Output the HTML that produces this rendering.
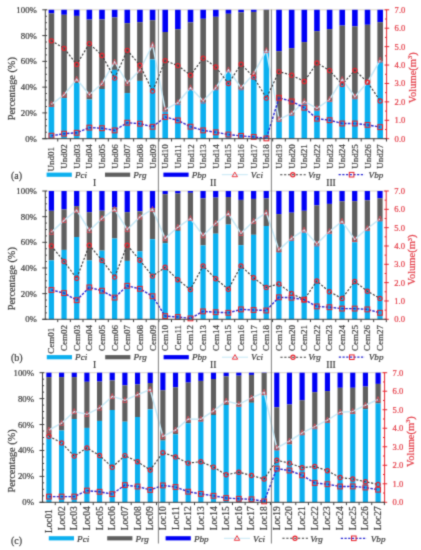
<!DOCTYPE html>
<html><head><meta charset="utf-8"><title>Chart</title>
<style>html,body{margin:0;padding:0;background:#fff;}body{width:421px;height:550px;overflow:hidden;}svg{display:block;}</style>
</head><body>
<svg width="421" height="550" viewBox="0 0 421 550">
<defs>
<filter id="soft" color-interpolation-filters="sRGB" filterUnits="userSpaceOnUse" x="0" y="0" width="421" height="550"><feConvolveMatrix order="3" kernelMatrix="0.03 0.1 0.03 0.1 0.48 0.1 0.03 0.1 0.03" edgeMode="duplicate"/></filter>
</defs>
<g filter="url(#soft)">
<rect width="421" height="550" fill="#fff"/>
<line x1="45.3" y1="9.8" x2="386.6" y2="9.8" stroke="#cfcabb" stroke-width="0.8"/>
<rect x="48.62" y="9.8" width="5.6" height="3.6" fill="#0000f5"/>
<rect x="48.62" y="13.4" width="5.6" height="93.6" fill="#5f5f5f"/>
<rect x="48.62" y="107" width="5.6" height="31.7" fill="#0cb0ef"/>
<rect x="61.27" y="9.8" width="5.6" height="5" fill="#0000f5"/>
<rect x="61.27" y="14.8" width="5.6" height="83.3" fill="#5f5f5f"/>
<rect x="61.27" y="98.1" width="5.6" height="40.6" fill="#0cb0ef"/>
<rect x="73.91" y="9.8" width="5.6" height="6.1" fill="#0000f5"/>
<rect x="73.91" y="15.9" width="5.6" height="67.1" fill="#5f5f5f"/>
<rect x="73.91" y="83" width="5.6" height="55.7" fill="#0cb0ef"/>
<rect x="86.56" y="9.8" width="5.6" height="9.8" fill="#0000f5"/>
<rect x="86.56" y="19.6" width="5.6" height="79.9" fill="#5f5f5f"/>
<rect x="86.56" y="99.5" width="5.6" height="39.2" fill="#0cb0ef"/>
<rect x="99.2" y="9.8" width="5.6" height="9.7" fill="#0000f5"/>
<rect x="99.2" y="19.5" width="5.6" height="69.5" fill="#5f5f5f"/>
<rect x="99.2" y="89" width="5.6" height="49.7" fill="#0cb0ef"/>
<rect x="111.84" y="9.8" width="5.6" height="7.6" fill="#0000f5"/>
<rect x="111.84" y="17.4" width="5.6" height="52.5" fill="#5f5f5f"/>
<rect x="111.84" y="69.9" width="5.6" height="68.8" fill="#0cb0ef"/>
<rect x="124.49" y="9.8" width="5.6" height="13.4" fill="#0000f5"/>
<rect x="124.49" y="23.2" width="5.6" height="69.9" fill="#5f5f5f"/>
<rect x="124.49" y="93.1" width="5.6" height="45.6" fill="#0cb0ef"/>
<rect x="137.13" y="9.8" width="5.6" height="12.4" fill="#0000f5"/>
<rect x="137.13" y="22.2" width="5.6" height="58.7" fill="#5f5f5f"/>
<rect x="137.13" y="80.9" width="5.6" height="57.8" fill="#0cb0ef"/>
<rect x="149.78" y="9.8" width="5.6" height="10.4" fill="#0000f5"/>
<rect x="149.78" y="20.2" width="5.6" height="39.2" fill="#5f5f5f"/>
<rect x="149.78" y="59.4" width="5.6" height="79.3" fill="#0cb0ef"/>
<rect x="162.42" y="9.8" width="5.6" height="22.2" fill="#0000f5"/>
<rect x="162.42" y="32" width="5.6" height="79.1" fill="#5f5f5f"/>
<rect x="162.42" y="111.1" width="5.6" height="27.6" fill="#0cb0ef"/>
<rect x="175.07" y="9.8" width="5.6" height="19.4" fill="#0000f5"/>
<rect x="175.07" y="29.2" width="5.6" height="74.2" fill="#5f5f5f"/>
<rect x="175.07" y="103.4" width="5.6" height="35.3" fill="#0cb0ef"/>
<rect x="187.71" y="9.8" width="5.6" height="12.6" fill="#0000f5"/>
<rect x="187.71" y="22.4" width="5.6" height="66.6" fill="#5f5f5f"/>
<rect x="187.71" y="89" width="5.6" height="49.7" fill="#0cb0ef"/>
<rect x="200.36" y="9.8" width="5.6" height="9" fill="#0000f5"/>
<rect x="200.36" y="18.8" width="5.6" height="83.2" fill="#5f5f5f"/>
<rect x="200.36" y="102" width="5.6" height="36.7" fill="#0cb0ef"/>
<rect x="213" y="9.8" width="5.6" height="7" fill="#0000f5"/>
<rect x="213" y="16.8" width="5.6" height="72.2" fill="#5f5f5f"/>
<rect x="213" y="89" width="5.6" height="49.7" fill="#0cb0ef"/>
<rect x="225.64" y="9.8" width="5.6" height="4" fill="#0000f5"/>
<rect x="225.64" y="13.8" width="5.6" height="57.3" fill="#5f5f5f"/>
<rect x="225.64" y="71.1" width="5.6" height="67.6" fill="#0cb0ef"/>
<rect x="238.29" y="9.8" width="5.6" height="2.6" fill="#0000f5"/>
<rect x="238.29" y="12.4" width="5.6" height="76.6" fill="#5f5f5f"/>
<rect x="238.29" y="89" width="5.6" height="49.7" fill="#0cb0ef"/>
<rect x="250.93" y="9.8" width="5.6" height="2.1" fill="#0000f5"/>
<rect x="250.93" y="11.9" width="5.6" height="63.4" fill="#5f5f5f"/>
<rect x="250.93" y="75.3" width="5.6" height="63.4" fill="#0cb0ef"/>
<rect x="263.58" y="9.8" width="5.6" height="0.2" fill="#0000f5"/>
<rect x="263.58" y="10" width="5.6" height="41.3" fill="#5f5f5f"/>
<rect x="263.58" y="51.3" width="5.6" height="87.4" fill="#0cb0ef"/>
<rect x="276.22" y="9.8" width="5.6" height="41.4" fill="#0000f5"/>
<rect x="276.22" y="51.2" width="5.6" height="69.5" fill="#5f5f5f"/>
<rect x="276.22" y="120.7" width="5.6" height="18" fill="#0cb0ef"/>
<rect x="288.87" y="9.8" width="5.6" height="38.4" fill="#0000f5"/>
<rect x="288.87" y="48.2" width="5.6" height="66.5" fill="#5f5f5f"/>
<rect x="288.87" y="114.7" width="5.6" height="24" fill="#0cb0ef"/>
<rect x="301.51" y="9.8" width="5.6" height="32.3" fill="#0000f5"/>
<rect x="301.51" y="42.1" width="5.6" height="61.5" fill="#5f5f5f"/>
<rect x="301.51" y="103.6" width="5.6" height="35.1" fill="#0cb0ef"/>
<rect x="314.16" y="9.8" width="5.6" height="21.4" fill="#0000f5"/>
<rect x="314.16" y="31.2" width="5.6" height="79" fill="#5f5f5f"/>
<rect x="314.16" y="110.2" width="5.6" height="28.5" fill="#0cb0ef"/>
<rect x="326.8" y="9.8" width="5.6" height="19.3" fill="#0000f5"/>
<rect x="326.8" y="29.1" width="5.6" height="72.5" fill="#5f5f5f"/>
<rect x="326.8" y="101.6" width="5.6" height="37.1" fill="#0cb0ef"/>
<rect x="339.44" y="9.8" width="5.6" height="15.8" fill="#0000f5"/>
<rect x="339.44" y="25.6" width="5.6" height="55.2" fill="#5f5f5f"/>
<rect x="339.44" y="80.8" width="5.6" height="57.9" fill="#0cb0ef"/>
<rect x="352.09" y="9.8" width="5.6" height="16.6" fill="#0000f5"/>
<rect x="352.09" y="26.4" width="5.6" height="72.4" fill="#5f5f5f"/>
<rect x="352.09" y="98.8" width="5.6" height="39.9" fill="#0cb0ef"/>
<rect x="364.73" y="9.8" width="5.6" height="15" fill="#0000f5"/>
<rect x="364.73" y="24.8" width="5.6" height="58.7" fill="#5f5f5f"/>
<rect x="364.73" y="83.5" width="5.6" height="55.2" fill="#0cb0ef"/>
<rect x="377.38" y="9.8" width="5.6" height="12.4" fill="#0000f5"/>
<rect x="377.38" y="22.2" width="5.6" height="39.3" fill="#5f5f5f"/>
<rect x="377.38" y="61.5" width="5.6" height="77.2" fill="#0cb0ef"/>
<polyline points="51.42,104.3 64.07,94.8 76.71,79.2 89.36,94.7 102,83.5 114.64,61.9 127.29,83.1 139.93,70 152.58,44.7 165.22,109.7 177.87,102.6 190.51,87.7 203.16,101 215.8,87.7 228.44,69.8 241.09,87.7 253.73,73.9 266.38,50.5 279.02,119.4 291.67,113.3 304.31,101.4 316.96,108.3 329.6,99.5 342.24,79.4 354.89,96.7 367.53,82.2 380.18,60.1" fill="none" stroke="#c6e8f6" stroke-width="1.5"/>
<polyline points="51.42,40.8 64.07,48.3 76.71,64.4 89.36,43.6 102,55.5 114.64,78.1 127.29,50.3 139.93,65.2 152.58,91.1 165.22,60.6 177.87,65.6 190.51,75.2 203.16,58.1 215.8,67 228.44,83.5 241.09,64.2 253.73,77.2 266.38,98.1 279.02,71.6 291.67,75.2 304.31,81.5 316.96,62.9 329.6,70.6 342.24,84.4 354.89,70.3 367.53,82.2 380.18,100.9" fill="none" stroke="#3a3a3a" stroke-width="1.15" stroke-dasharray="2.2,1.6"/>
<polyline points="51.42,135.7 64.07,133.7 76.71,132.8 89.36,127.6 102,128.2 114.64,130.4 127.29,122.7 139.93,123.7 152.58,126.8 165.22,117 177.87,120.4 190.51,126.7 203.16,130.4 215.8,132.3 228.44,134.5 241.09,135.9 253.73,136.9 266.38,138.4 279.02,97.8 291.67,101.4 304.31,107.7 316.96,118.7 329.6,120.2 342.24,123.5 354.89,123.5 367.53,124.9 380.18,127.1" fill="none" stroke="#2626d2" stroke-width="1.4" stroke-dasharray="2.6,1.3"/>
<path d="M51.42,101.4 L53.57,106.4 L49.27,106.4 Z" fill="none" stroke="#e5505e" stroke-width="0.8"/>
<rect x="49.02" y="133.3" width="4.8" height="4.8" fill="none" stroke="#e8232d" stroke-width="1.05"/>
<path d="M64.07,91.9 L66.22,96.9 L61.92,96.9 Z" fill="none" stroke="#e5505e" stroke-width="0.8"/>
<rect x="61.67" y="131.3" width="4.8" height="4.8" fill="none" stroke="#e8232d" stroke-width="1.05"/>
<path d="M76.71,76.3 L78.86,81.3 L74.56,81.3 Z" fill="none" stroke="#e5505e" stroke-width="0.8"/>
<rect x="74.31" y="130.4" width="4.8" height="4.8" fill="none" stroke="#e8232d" stroke-width="1.05"/>
<path d="M89.36,91.8 L91.51,96.8 L87.21,96.8 Z" fill="none" stroke="#e5505e" stroke-width="0.8"/>
<rect x="86.96" y="125.2" width="4.8" height="4.8" fill="none" stroke="#e8232d" stroke-width="1.05"/>
<path d="M102,80.6 L104.15,85.6 L99.85,85.6 Z" fill="none" stroke="#e5505e" stroke-width="0.8"/>
<rect x="99.6" y="125.8" width="4.8" height="4.8" fill="none" stroke="#e8232d" stroke-width="1.05"/>
<path d="M114.64,59 L116.79,64 L112.49,64 Z" fill="none" stroke="#e5505e" stroke-width="0.8"/>
<rect x="112.24" y="128" width="4.8" height="4.8" fill="none" stroke="#e8232d" stroke-width="1.05"/>
<path d="M127.29,80.2 L129.44,85.2 L125.14,85.2 Z" fill="none" stroke="#e5505e" stroke-width="0.8"/>
<rect x="124.89" y="120.3" width="4.8" height="4.8" fill="none" stroke="#e8232d" stroke-width="1.05"/>
<path d="M139.93,67.1 L142.08,72.1 L137.78,72.1 Z" fill="none" stroke="#e5505e" stroke-width="0.8"/>
<rect x="137.53" y="121.3" width="4.8" height="4.8" fill="none" stroke="#e8232d" stroke-width="1.05"/>
<path d="M152.58,41.8 L154.73,46.8 L150.43,46.8 Z" fill="none" stroke="#e5505e" stroke-width="0.8"/>
<rect x="150.18" y="124.4" width="4.8" height="4.8" fill="none" stroke="#e8232d" stroke-width="1.05"/>
<path d="M165.22,106.8 L167.37,111.8 L163.07,111.8 Z" fill="none" stroke="#e5505e" stroke-width="0.8"/>
<rect x="162.82" y="114.6" width="4.8" height="4.8" fill="none" stroke="#e8232d" stroke-width="1.05"/>
<path d="M177.87,99.7 L180.02,104.7 L175.72,104.7 Z" fill="none" stroke="#e5505e" stroke-width="0.8"/>
<rect x="175.47" y="118" width="4.8" height="4.8" fill="none" stroke="#e8232d" stroke-width="1.05"/>
<path d="M190.51,84.8 L192.66,89.8 L188.36,89.8 Z" fill="none" stroke="#e5505e" stroke-width="0.8"/>
<rect x="188.11" y="124.3" width="4.8" height="4.8" fill="none" stroke="#e8232d" stroke-width="1.05"/>
<path d="M203.16,98.1 L205.31,103.1 L201.01,103.1 Z" fill="none" stroke="#e5505e" stroke-width="0.8"/>
<rect x="200.76" y="128" width="4.8" height="4.8" fill="none" stroke="#e8232d" stroke-width="1.05"/>
<path d="M215.8,84.8 L217.95,89.8 L213.65,89.8 Z" fill="none" stroke="#e5505e" stroke-width="0.8"/>
<rect x="213.4" y="129.9" width="4.8" height="4.8" fill="none" stroke="#e8232d" stroke-width="1.05"/>
<path d="M228.44,66.9 L230.59,71.9 L226.29,71.9 Z" fill="none" stroke="#e5505e" stroke-width="0.8"/>
<rect x="226.04" y="132.1" width="4.8" height="4.8" fill="none" stroke="#e8232d" stroke-width="1.05"/>
<path d="M241.09,84.8 L243.24,89.8 L238.94,89.8 Z" fill="none" stroke="#e5505e" stroke-width="0.8"/>
<rect x="238.69" y="133.5" width="4.8" height="4.8" fill="none" stroke="#e8232d" stroke-width="1.05"/>
<path d="M253.73,71 L255.88,76 L251.58,76 Z" fill="none" stroke="#e5505e" stroke-width="0.8"/>
<rect x="251.33" y="134.5" width="4.8" height="4.8" fill="none" stroke="#e8232d" stroke-width="1.05"/>
<path d="M266.38,47.6 L268.53,52.6 L264.23,52.6 Z" fill="none" stroke="#e5505e" stroke-width="0.8"/>
<rect x="263.98" y="136" width="4.8" height="4.8" fill="none" stroke="#e8232d" stroke-width="1.05"/>
<path d="M279.02,116.5 L281.17,121.5 L276.87,121.5 Z" fill="none" stroke="#e5505e" stroke-width="0.8"/>
<rect x="276.62" y="95.4" width="4.8" height="4.8" fill="none" stroke="#e8232d" stroke-width="1.05"/>
<path d="M291.67,110.4 L293.82,115.4 L289.52,115.4 Z" fill="none" stroke="#e5505e" stroke-width="0.8"/>
<rect x="289.27" y="99" width="4.8" height="4.8" fill="none" stroke="#e8232d" stroke-width="1.05"/>
<path d="M304.31,98.5 L306.46,103.5 L302.16,103.5 Z" fill="none" stroke="#e5505e" stroke-width="0.8"/>
<rect x="301.91" y="105.3" width="4.8" height="4.8" fill="none" stroke="#e8232d" stroke-width="1.05"/>
<path d="M316.96,105.4 L319.11,110.4 L314.81,110.4 Z" fill="none" stroke="#e5505e" stroke-width="0.8"/>
<rect x="314.56" y="116.3" width="4.8" height="4.8" fill="none" stroke="#e8232d" stroke-width="1.05"/>
<path d="M329.6,96.6 L331.75,101.6 L327.45,101.6 Z" fill="none" stroke="#e5505e" stroke-width="0.8"/>
<rect x="327.2" y="117.8" width="4.8" height="4.8" fill="none" stroke="#e8232d" stroke-width="1.05"/>
<path d="M342.24,76.5 L344.39,81.5 L340.09,81.5 Z" fill="none" stroke="#e5505e" stroke-width="0.8"/>
<rect x="339.84" y="121.1" width="4.8" height="4.8" fill="none" stroke="#e8232d" stroke-width="1.05"/>
<path d="M354.89,93.8 L357.04,98.8 L352.74,98.8 Z" fill="none" stroke="#e5505e" stroke-width="0.8"/>
<rect x="352.49" y="121.1" width="4.8" height="4.8" fill="none" stroke="#e8232d" stroke-width="1.05"/>
<path d="M367.53,79.3 L369.68,84.3 L365.38,84.3 Z" fill="none" stroke="#e5505e" stroke-width="0.8"/>
<rect x="365.13" y="122.5" width="4.8" height="4.8" fill="none" stroke="#e8232d" stroke-width="1.05"/>
<path d="M380.18,57.2 L382.33,62.2 L378.03,62.2 Z" fill="none" stroke="#e5505e" stroke-width="0.8"/>
<rect x="377.78" y="124.7" width="4.8" height="4.8" fill="none" stroke="#e8232d" stroke-width="1.05"/>
<circle cx="51.42" cy="40.8" r="2.1" fill="none" stroke="#e8232d" stroke-width="1.15"/>
<circle cx="64.07" cy="48.3" r="2.1" fill="none" stroke="#e8232d" stroke-width="1.15"/>
<circle cx="76.71" cy="64.4" r="2.1" fill="none" stroke="#e8232d" stroke-width="1.15"/>
<circle cx="89.36" cy="43.6" r="2.1" fill="none" stroke="#e8232d" stroke-width="1.15"/>
<circle cx="102" cy="55.5" r="2.1" fill="none" stroke="#e8232d" stroke-width="1.15"/>
<circle cx="114.64" cy="78.1" r="2.1" fill="none" stroke="#e8232d" stroke-width="1.15"/>
<circle cx="127.29" cy="50.3" r="2.1" fill="none" stroke="#e8232d" stroke-width="1.15"/>
<circle cx="139.93" cy="65.2" r="2.1" fill="none" stroke="#e8232d" stroke-width="1.15"/>
<circle cx="152.58" cy="91.1" r="2.1" fill="none" stroke="#e8232d" stroke-width="1.15"/>
<circle cx="165.22" cy="60.6" r="2.1" fill="none" stroke="#e8232d" stroke-width="1.15"/>
<circle cx="177.87" cy="65.6" r="2.1" fill="none" stroke="#e8232d" stroke-width="1.15"/>
<circle cx="190.51" cy="75.2" r="2.1" fill="none" stroke="#e8232d" stroke-width="1.15"/>
<circle cx="203.16" cy="58.1" r="2.1" fill="none" stroke="#e8232d" stroke-width="1.15"/>
<circle cx="215.8" cy="67" r="2.1" fill="none" stroke="#e8232d" stroke-width="1.15"/>
<circle cx="228.44" cy="83.5" r="2.1" fill="none" stroke="#e8232d" stroke-width="1.15"/>
<circle cx="241.09" cy="64.2" r="2.1" fill="none" stroke="#e8232d" stroke-width="1.15"/>
<circle cx="253.73" cy="77.2" r="2.1" fill="none" stroke="#e8232d" stroke-width="1.15"/>
<circle cx="266.38" cy="98.1" r="2.1" fill="none" stroke="#e8232d" stroke-width="1.15"/>
<circle cx="279.02" cy="71.6" r="2.1" fill="none" stroke="#e8232d" stroke-width="1.15"/>
<circle cx="291.67" cy="75.2" r="2.1" fill="none" stroke="#e8232d" stroke-width="1.15"/>
<circle cx="304.31" cy="81.5" r="2.1" fill="none" stroke="#e8232d" stroke-width="1.15"/>
<circle cx="316.96" cy="62.9" r="2.1" fill="none" stroke="#e8232d" stroke-width="1.15"/>
<circle cx="329.6" cy="70.6" r="2.1" fill="none" stroke="#e8232d" stroke-width="1.15"/>
<circle cx="342.24" cy="84.4" r="2.1" fill="none" stroke="#e8232d" stroke-width="1.15"/>
<circle cx="354.89" cy="70.3" r="2.1" fill="none" stroke="#e8232d" stroke-width="1.15"/>
<circle cx="367.53" cy="82.2" r="2.1" fill="none" stroke="#e8232d" stroke-width="1.15"/>
<circle cx="380.18" cy="100.9" r="2.1" fill="none" stroke="#e8232d" stroke-width="1.15"/>
<line x1="45.3" y1="9.8" x2="45.3" y2="138.7" stroke="#3c3c3c" stroke-width="1"/>
<line x1="42.3" y1="138.7" x2="47.1" y2="138.7" stroke="#3c3c3c" stroke-width="1"/>
<text x="36.9" y="141.7" text-anchor="end" font-size="8.8" fill="#3a3a3a" stroke="#3a3a3a" stroke-width="0.2" style="font-family:'Liberation Serif',serif">0%</text>
<line x1="45.3" y1="132.25" x2="46.9" y2="132.25" stroke="#3c3c3c" stroke-width="1"/>
<line x1="45.3" y1="125.81" x2="46.9" y2="125.81" stroke="#3c3c3c" stroke-width="1"/>
<line x1="45.3" y1="119.36" x2="46.9" y2="119.36" stroke="#3c3c3c" stroke-width="1"/>
<line x1="42.3" y1="112.92" x2="47.1" y2="112.92" stroke="#3c3c3c" stroke-width="1"/>
<text x="36.9" y="115.92" text-anchor="end" font-size="8.8" fill="#3a3a3a" stroke="#3a3a3a" stroke-width="0.2" style="font-family:'Liberation Serif',serif">20%</text>
<line x1="45.3" y1="106.47" x2="46.9" y2="106.47" stroke="#3c3c3c" stroke-width="1"/>
<line x1="45.3" y1="100.03" x2="46.9" y2="100.03" stroke="#3c3c3c" stroke-width="1"/>
<line x1="45.3" y1="93.58" x2="46.9" y2="93.58" stroke="#3c3c3c" stroke-width="1"/>
<line x1="42.3" y1="87.14" x2="47.1" y2="87.14" stroke="#3c3c3c" stroke-width="1"/>
<text x="36.9" y="90.14" text-anchor="end" font-size="8.8" fill="#3a3a3a" stroke="#3a3a3a" stroke-width="0.2" style="font-family:'Liberation Serif',serif">40%</text>
<line x1="45.3" y1="80.69" x2="46.9" y2="80.69" stroke="#3c3c3c" stroke-width="1"/>
<line x1="45.3" y1="74.25" x2="46.9" y2="74.25" stroke="#3c3c3c" stroke-width="1"/>
<line x1="45.3" y1="67.81" x2="46.9" y2="67.81" stroke="#3c3c3c" stroke-width="1"/>
<line x1="42.3" y1="61.36" x2="47.1" y2="61.36" stroke="#3c3c3c" stroke-width="1"/>
<text x="36.9" y="64.36" text-anchor="end" font-size="8.8" fill="#3a3a3a" stroke="#3a3a3a" stroke-width="0.2" style="font-family:'Liberation Serif',serif">60%</text>
<line x1="45.3" y1="54.91" x2="46.9" y2="54.91" stroke="#3c3c3c" stroke-width="1"/>
<line x1="45.3" y1="48.47" x2="46.9" y2="48.47" stroke="#3c3c3c" stroke-width="1"/>
<line x1="45.3" y1="42.03" x2="46.9" y2="42.03" stroke="#3c3c3c" stroke-width="1"/>
<line x1="42.3" y1="35.58" x2="47.1" y2="35.58" stroke="#3c3c3c" stroke-width="1"/>
<text x="36.9" y="38.58" text-anchor="end" font-size="8.8" fill="#3a3a3a" stroke="#3a3a3a" stroke-width="0.2" style="font-family:'Liberation Serif',serif">80%</text>
<line x1="45.3" y1="29.14" x2="46.9" y2="29.14" stroke="#3c3c3c" stroke-width="1"/>
<line x1="45.3" y1="22.69" x2="46.9" y2="22.69" stroke="#3c3c3c" stroke-width="1"/>
<line x1="45.3" y1="16.25" x2="46.9" y2="16.25" stroke="#3c3c3c" stroke-width="1"/>
<line x1="42.3" y1="9.8" x2="47.1" y2="9.8" stroke="#3c3c3c" stroke-width="1"/>
<text x="36.9" y="12.8" text-anchor="end" font-size="8.8" fill="#3a3a3a" stroke="#3a3a3a" stroke-width="0.2" style="font-family:'Liberation Serif',serif">100%</text>
<line x1="386.6" y1="9.8" x2="386.6" y2="138.7" stroke="#e8232d" stroke-width="1"/>
<line x1="384.6" y1="138.7" x2="389.2" y2="138.7" stroke="#e8232d" stroke-width="1"/>
<text x="394.6" y="141.7" font-size="8.6" fill="#e33a44" stroke="#e33a44" stroke-width="0.2" style="font-family:'Liberation Serif',serif">0.0</text>
<line x1="385" y1="129.49" x2="386.6" y2="129.49" stroke="#e8232d" stroke-width="1"/>
<line x1="384.6" y1="120.29" x2="389.2" y2="120.29" stroke="#e8232d" stroke-width="1"/>
<text x="394.6" y="123.29" font-size="8.6" fill="#e33a44" stroke="#e33a44" stroke-width="0.2" style="font-family:'Liberation Serif',serif">1.0</text>
<line x1="385" y1="111.08" x2="386.6" y2="111.08" stroke="#e8232d" stroke-width="1"/>
<line x1="384.6" y1="101.87" x2="389.2" y2="101.87" stroke="#e8232d" stroke-width="1"/>
<text x="394.6" y="104.87" font-size="8.6" fill="#e33a44" stroke="#e33a44" stroke-width="0.2" style="font-family:'Liberation Serif',serif">2.0</text>
<line x1="385" y1="92.66" x2="386.6" y2="92.66" stroke="#e8232d" stroke-width="1"/>
<line x1="384.6" y1="83.46" x2="389.2" y2="83.46" stroke="#e8232d" stroke-width="1"/>
<text x="394.6" y="86.46" font-size="8.6" fill="#e33a44" stroke="#e33a44" stroke-width="0.2" style="font-family:'Liberation Serif',serif">3.0</text>
<line x1="385" y1="74.25" x2="386.6" y2="74.25" stroke="#e8232d" stroke-width="1"/>
<line x1="384.6" y1="65.04" x2="389.2" y2="65.04" stroke="#e8232d" stroke-width="1"/>
<text x="394.6" y="68.04" font-size="8.6" fill="#e33a44" stroke="#e33a44" stroke-width="0.2" style="font-family:'Liberation Serif',serif">4.0</text>
<line x1="385" y1="55.84" x2="386.6" y2="55.84" stroke="#e8232d" stroke-width="1"/>
<line x1="384.6" y1="46.63" x2="389.2" y2="46.63" stroke="#e8232d" stroke-width="1"/>
<text x="394.6" y="49.63" font-size="8.6" fill="#e33a44" stroke="#e33a44" stroke-width="0.2" style="font-family:'Liberation Serif',serif">5.0</text>
<line x1="385" y1="37.42" x2="386.6" y2="37.42" stroke="#e8232d" stroke-width="1"/>
<line x1="384.6" y1="28.21" x2="389.2" y2="28.21" stroke="#e8232d" stroke-width="1"/>
<text x="394.6" y="31.21" font-size="8.6" fill="#e33a44" stroke="#e33a44" stroke-width="0.2" style="font-family:'Liberation Serif',serif">6.0</text>
<line x1="385" y1="19.01" x2="386.6" y2="19.01" stroke="#e8232d" stroke-width="1"/>
<line x1="384.6" y1="9.8" x2="389.2" y2="9.8" stroke="#e8232d" stroke-width="1"/>
<text x="394.6" y="12.8" font-size="8.6" fill="#e33a44" stroke="#e33a44" stroke-width="0.2" style="font-family:'Liberation Serif',serif">7.0</text>
<line x1="42.3" y1="138.7" x2="386.6" y2="138.7" stroke="#3c3c3c" stroke-width="1"/>
<line x1="57.74" y1="138.7" x2="57.74" y2="141.5" stroke="#3c3c3c" stroke-width="1"/>
<line x1="70.39" y1="138.7" x2="70.39" y2="141.5" stroke="#3c3c3c" stroke-width="1"/>
<line x1="83.03" y1="138.7" x2="83.03" y2="141.5" stroke="#3c3c3c" stroke-width="1"/>
<line x1="95.68" y1="138.7" x2="95.68" y2="141.5" stroke="#3c3c3c" stroke-width="1"/>
<line x1="108.32" y1="138.7" x2="108.32" y2="141.5" stroke="#3c3c3c" stroke-width="1"/>
<line x1="120.97" y1="138.7" x2="120.97" y2="141.5" stroke="#3c3c3c" stroke-width="1"/>
<line x1="133.61" y1="138.7" x2="133.61" y2="141.5" stroke="#3c3c3c" stroke-width="1"/>
<line x1="146.26" y1="138.7" x2="146.26" y2="141.5" stroke="#3c3c3c" stroke-width="1"/>
<line x1="158.9" y1="138.7" x2="158.9" y2="141.5" stroke="#3c3c3c" stroke-width="1"/>
<line x1="171.54" y1="138.7" x2="171.54" y2="141.5" stroke="#3c3c3c" stroke-width="1"/>
<line x1="184.19" y1="138.7" x2="184.19" y2="141.5" stroke="#3c3c3c" stroke-width="1"/>
<line x1="196.83" y1="138.7" x2="196.83" y2="141.5" stroke="#3c3c3c" stroke-width="1"/>
<line x1="209.48" y1="138.7" x2="209.48" y2="141.5" stroke="#3c3c3c" stroke-width="1"/>
<line x1="222.12" y1="138.7" x2="222.12" y2="141.5" stroke="#3c3c3c" stroke-width="1"/>
<line x1="234.77" y1="138.7" x2="234.77" y2="141.5" stroke="#3c3c3c" stroke-width="1"/>
<line x1="247.41" y1="138.7" x2="247.41" y2="141.5" stroke="#3c3c3c" stroke-width="1"/>
<line x1="260.06" y1="138.7" x2="260.06" y2="141.5" stroke="#3c3c3c" stroke-width="1"/>
<line x1="272.7" y1="138.7" x2="272.7" y2="141.5" stroke="#3c3c3c" stroke-width="1"/>
<line x1="285.34" y1="138.7" x2="285.34" y2="141.5" stroke="#3c3c3c" stroke-width="1"/>
<line x1="297.99" y1="138.7" x2="297.99" y2="141.5" stroke="#3c3c3c" stroke-width="1"/>
<line x1="310.63" y1="138.7" x2="310.63" y2="141.5" stroke="#3c3c3c" stroke-width="1"/>
<line x1="323.28" y1="138.7" x2="323.28" y2="141.5" stroke="#3c3c3c" stroke-width="1"/>
<line x1="335.92" y1="138.7" x2="335.92" y2="141.5" stroke="#3c3c3c" stroke-width="1"/>
<line x1="348.57" y1="138.7" x2="348.57" y2="141.5" stroke="#3c3c3c" stroke-width="1"/>
<line x1="361.21" y1="138.7" x2="361.21" y2="141.5" stroke="#3c3c3c" stroke-width="1"/>
<line x1="373.86" y1="138.7" x2="373.86" y2="141.5" stroke="#3c3c3c" stroke-width="1"/>
<line x1="386.5" y1="138.7" x2="386.5" y2="141.5" stroke="#3c3c3c" stroke-width="1"/>
<text transform="translate(54.42,147.1) rotate(-90)" text-anchor="end" font-size="9.0" fill="#3a3a3a" stroke="#3a3a3a" stroke-width="0.2" style="font-family:'Liberation Serif',serif">Und01</text>
<text transform="translate(67.07,144.3) rotate(-90)" text-anchor="end" font-size="9.0" fill="#3a3a3a" stroke="#3a3a3a" stroke-width="0.2" style="font-family:'Liberation Serif',serif">Und02</text>
<text transform="translate(79.71,144.3) rotate(-90)" text-anchor="end" font-size="9.0" fill="#3a3a3a" stroke="#3a3a3a" stroke-width="0.2" style="font-family:'Liberation Serif',serif">Und03</text>
<text transform="translate(92.36,144.3) rotate(-90)" text-anchor="end" font-size="9.0" fill="#3a3a3a" stroke="#3a3a3a" stroke-width="0.2" style="font-family:'Liberation Serif',serif">Und04</text>
<text transform="translate(105,144.3) rotate(-90)" text-anchor="end" font-size="9.0" fill="#3a3a3a" stroke="#3a3a3a" stroke-width="0.2" style="font-family:'Liberation Serif',serif">Und05</text>
<text transform="translate(117.64,144.3) rotate(-90)" text-anchor="end" font-size="9.0" fill="#3a3a3a" stroke="#3a3a3a" stroke-width="0.2" style="font-family:'Liberation Serif',serif">Und06</text>
<text transform="translate(130.29,144.3) rotate(-90)" text-anchor="end" font-size="9.0" fill="#3a3a3a" stroke="#3a3a3a" stroke-width="0.2" style="font-family:'Liberation Serif',serif">Und07</text>
<text transform="translate(142.93,144.3) rotate(-90)" text-anchor="end" font-size="9.0" fill="#3a3a3a" stroke="#3a3a3a" stroke-width="0.2" style="font-family:'Liberation Serif',serif">Und08</text>
<text transform="translate(155.58,144.3) rotate(-90)" text-anchor="end" font-size="9.0" fill="#3a3a3a" stroke="#3a3a3a" stroke-width="0.2" style="font-family:'Liberation Serif',serif">Und09</text>
<text transform="translate(168.22,144.3) rotate(-90)" text-anchor="end" font-size="9.0" fill="#3a3a3a" stroke="#3a3a3a" stroke-width="0.2" style="font-family:'Liberation Serif',serif">Und10</text>
<text transform="translate(180.87,144.3) rotate(-90)" text-anchor="end" font-size="9.0" fill="#3a3a3a" stroke="#3a3a3a" stroke-width="0.2" style="font-family:'Liberation Serif',serif">Und11</text>
<text transform="translate(193.51,144.3) rotate(-90)" text-anchor="end" font-size="9.0" fill="#3a3a3a" stroke="#3a3a3a" stroke-width="0.2" style="font-family:'Liberation Serif',serif">Und12</text>
<text transform="translate(206.16,144.3) rotate(-90)" text-anchor="end" font-size="9.0" fill="#3a3a3a" stroke="#3a3a3a" stroke-width="0.2" style="font-family:'Liberation Serif',serif">Und13</text>
<text transform="translate(218.8,144.3) rotate(-90)" text-anchor="end" font-size="9.0" fill="#3a3a3a" stroke="#3a3a3a" stroke-width="0.2" style="font-family:'Liberation Serif',serif">Und14</text>
<text transform="translate(231.44,144.3) rotate(-90)" text-anchor="end" font-size="9.0" fill="#3a3a3a" stroke="#3a3a3a" stroke-width="0.2" style="font-family:'Liberation Serif',serif">Und15</text>
<text transform="translate(244.09,144.3) rotate(-90)" text-anchor="end" font-size="9.0" fill="#3a3a3a" stroke="#3a3a3a" stroke-width="0.2" style="font-family:'Liberation Serif',serif">Und16</text>
<text transform="translate(256.73,144.3) rotate(-90)" text-anchor="end" font-size="9.0" fill="#3a3a3a" stroke="#3a3a3a" stroke-width="0.2" style="font-family:'Liberation Serif',serif">Und17</text>
<text transform="translate(269.38,144.3) rotate(-90)" text-anchor="end" font-size="9.0" fill="#3a3a3a" stroke="#3a3a3a" stroke-width="0.2" style="font-family:'Liberation Serif',serif">Und18</text>
<text transform="translate(282.02,144.3) rotate(-90)" text-anchor="end" font-size="9.0" fill="#3a3a3a" stroke="#3a3a3a" stroke-width="0.2" style="font-family:'Liberation Serif',serif">Und19</text>
<text transform="translate(294.67,144.3) rotate(-90)" text-anchor="end" font-size="9.0" fill="#3a3a3a" stroke="#3a3a3a" stroke-width="0.2" style="font-family:'Liberation Serif',serif">Und20</text>
<text transform="translate(307.31,144.3) rotate(-90)" text-anchor="end" font-size="9.0" fill="#3a3a3a" stroke="#3a3a3a" stroke-width="0.2" style="font-family:'Liberation Serif',serif">Und21</text>
<text transform="translate(319.96,144.3) rotate(-90)" text-anchor="end" font-size="9.0" fill="#3a3a3a" stroke="#3a3a3a" stroke-width="0.2" style="font-family:'Liberation Serif',serif">Und22</text>
<text transform="translate(332.6,144.3) rotate(-90)" text-anchor="end" font-size="9.0" fill="#3a3a3a" stroke="#3a3a3a" stroke-width="0.2" style="font-family:'Liberation Serif',serif">Und23</text>
<text transform="translate(345.24,144.3) rotate(-90)" text-anchor="end" font-size="9.0" fill="#3a3a3a" stroke="#3a3a3a" stroke-width="0.2" style="font-family:'Liberation Serif',serif">Und24</text>
<text transform="translate(357.89,144.3) rotate(-90)" text-anchor="end" font-size="9.0" fill="#3a3a3a" stroke="#3a3a3a" stroke-width="0.2" style="font-family:'Liberation Serif',serif">Und25</text>
<text transform="translate(370.53,144.3) rotate(-90)" text-anchor="end" font-size="9.0" fill="#3a3a3a" stroke="#3a3a3a" stroke-width="0.2" style="font-family:'Liberation Serif',serif">Und26</text>
<text transform="translate(383.18,144.3) rotate(-90)" text-anchor="end" font-size="9.0" fill="#3a3a3a" stroke="#3a3a3a" stroke-width="0.2" style="font-family:'Liberation Serif',serif">Und27</text>
<text transform="translate(14.6,88.7) rotate(-90)" text-anchor="middle" font-size="10.3" fill="#3a3a3a" stroke="#3a3a3a" stroke-width="0.2" style="font-family:'Liberation Serif',serif">Percentage (%)</text>
<text transform="translate(415.6,77.75) rotate(-90)" text-anchor="middle" font-size="10.5" fill="#e33a44" stroke="#e33a44" stroke-width="0.2" style="font-family:'Liberation Serif',serif">Volume(m<tspan dy="-3.5" font-size="6.3">3</tspan><tspan dy="3.5">)</tspan></text>
<text x="11" y="179.4" font-size="10" fill="#3a3a3a" stroke="#3a3a3a" stroke-width="0.2" style="font-family:'Liberation Serif',serif">(a)</text>
<rect x="46.6" y="172.6" width="25.2" height="4.2" fill="#0cb0ef"/>
<text x="74.9" y="177.9" font-style="italic" font-size="9.1" fill="#3a3a3a" stroke="#3a3a3a" stroke-width="0.2" style="font-family:'Liberation Serif',serif">Pci</text>
<rect x="105" y="172.6" width="25.2" height="4.2" fill="#5f5f5f"/>
<text x="133.3" y="177.9" font-style="italic" font-size="9.1" fill="#3a3a3a" stroke="#3a3a3a" stroke-width="0.2" style="font-family:'Liberation Serif',serif">Prg</text>
<rect x="163.4" y="172.6" width="25.2" height="4.2" fill="#0000f5"/>
<text x="191.7" y="177.9" font-style="italic" font-size="9.1" fill="#3a3a3a" stroke="#3a3a3a" stroke-width="0.2" style="font-family:'Liberation Serif',serif">Pbp</text>
<line x1="221.8" y1="174.7" x2="247.8" y2="174.7" stroke="#c6e8f6" stroke-width="1"/>
<path d="M234.8,172.1 L237.5,176.7 L232.1,176.7 Z" fill="none" stroke="#e8232d" stroke-width="0.9"/>
<text x="250.8" y="177.9" font-style="italic" font-size="9.1" fill="#3a3a3a" stroke="#3a3a3a" stroke-width="0.2" style="font-family:'Liberation Serif',serif">Vci</text>
<line x1="280.2" y1="174.7" x2="305.7" y2="174.7" stroke="#3a3a3a" stroke-width="1.1" stroke-dasharray="2.2,1.7"/>
<circle cx="292.8" cy="174.7" r="2.1" fill="none" stroke="#e8232d" stroke-width="1.2"/>
<text x="308" y="177.9" font-style="italic" font-size="9.1" fill="#3a3a3a" stroke="#3a3a3a" stroke-width="0.2" style="font-family:'Liberation Serif',serif">Vrg</text>
<line x1="338.6" y1="174.7" x2="364.6" y2="174.7" stroke="#2626d2" stroke-width="1.3" stroke-dasharray="2.2,1.5"/>
<rect x="349.3" y="172.4" width="4.6" height="4.6" fill="none" stroke="#e8232d" stroke-width="1"/>
<text x="368.6" y="177.9" font-style="italic" font-size="9.1" fill="#3a3a3a" stroke="#3a3a3a" stroke-width="0.2" style="font-family:'Liberation Serif',serif">Vbp</text>
<line x1="45.3" y1="191" x2="386.2" y2="191" stroke="#cfcabb" stroke-width="0.8"/>
<rect x="48.79" y="191" width="5.25" height="19.8" fill="#0000f5"/>
<rect x="48.79" y="210.8" width="5.25" height="49.6" fill="#5f5f5f"/>
<rect x="48.79" y="260.4" width="5.25" height="58.9" fill="#0cb0ef"/>
<rect x="61.43" y="191" width="5.25" height="18.4" fill="#0000f5"/>
<rect x="61.43" y="209.4" width="5.25" height="40.5" fill="#5f5f5f"/>
<rect x="61.43" y="249.9" width="5.25" height="69.4" fill="#0cb0ef"/>
<rect x="74.07" y="191" width="5.25" height="15.1" fill="#0000f5"/>
<rect x="74.07" y="206.1" width="5.25" height="30.9" fill="#5f5f5f"/>
<rect x="74.07" y="237" width="5.25" height="82.3" fill="#0cb0ef"/>
<rect x="86.7" y="191" width="5.25" height="21.2" fill="#0000f5"/>
<rect x="86.7" y="212.2" width="5.25" height="48.2" fill="#5f5f5f"/>
<rect x="86.7" y="260.4" width="5.25" height="58.9" fill="#0cb0ef"/>
<rect x="99.34" y="191" width="5.25" height="19.7" fill="#0000f5"/>
<rect x="99.34" y="210.7" width="5.25" height="39.9" fill="#5f5f5f"/>
<rect x="99.34" y="250.6" width="5.25" height="68.7" fill="#0cb0ef"/>
<rect x="111.98" y="191" width="5.25" height="16.4" fill="#0000f5"/>
<rect x="111.98" y="207.4" width="5.25" height="31.1" fill="#5f5f5f"/>
<rect x="111.98" y="238.5" width="5.25" height="80.8" fill="#0cb0ef"/>
<rect x="124.62" y="191" width="5.25" height="21.2" fill="#0000f5"/>
<rect x="124.62" y="212.2" width="5.25" height="48.7" fill="#5f5f5f"/>
<rect x="124.62" y="260.9" width="5.25" height="58.4" fill="#0cb0ef"/>
<rect x="137.25" y="191" width="5.25" height="20.3" fill="#0000f5"/>
<rect x="137.25" y="211.3" width="5.25" height="40" fill="#5f5f5f"/>
<rect x="137.25" y="251.3" width="5.25" height="68" fill="#0cb0ef"/>
<rect x="149.89" y="191" width="5.25" height="17.2" fill="#0000f5"/>
<rect x="149.89" y="208.2" width="5.25" height="31" fill="#5f5f5f"/>
<rect x="149.89" y="239.2" width="5.25" height="80.1" fill="#0cb0ef"/>
<rect x="162.53" y="191" width="5.25" height="3.2" fill="#0000f5"/>
<rect x="162.53" y="194.2" width="5.25" height="49" fill="#5f5f5f"/>
<rect x="162.53" y="243.2" width="5.25" height="76.1" fill="#0cb0ef"/>
<rect x="175.16" y="191" width="5.25" height="2.5" fill="#0000f5"/>
<rect x="175.16" y="193.5" width="5.25" height="37.4" fill="#5f5f5f"/>
<rect x="175.16" y="230.9" width="5.25" height="88.4" fill="#0cb0ef"/>
<rect x="187.8" y="191" width="5.25" height="1.8" fill="#0000f5"/>
<rect x="187.8" y="192.8" width="5.25" height="27.6" fill="#5f5f5f"/>
<rect x="187.8" y="220.4" width="5.25" height="98.9" fill="#0cb0ef"/>
<rect x="200.44" y="191" width="5.25" height="7.4" fill="#0000f5"/>
<rect x="200.44" y="198.4" width="5.25" height="47" fill="#5f5f5f"/>
<rect x="200.44" y="245.4" width="5.25" height="73.9" fill="#0cb0ef"/>
<rect x="213.07" y="191" width="5.25" height="6.6" fill="#0000f5"/>
<rect x="213.07" y="197.6" width="5.25" height="36.1" fill="#5f5f5f"/>
<rect x="213.07" y="233.7" width="5.25" height="85.6" fill="#0cb0ef"/>
<rect x="225.71" y="191" width="5.25" height="6" fill="#0000f5"/>
<rect x="225.71" y="197" width="5.25" height="27.6" fill="#5f5f5f"/>
<rect x="225.71" y="224.6" width="5.25" height="94.7" fill="#0cb0ef"/>
<rect x="238.35" y="191" width="5.25" height="8.9" fill="#0000f5"/>
<rect x="238.35" y="199.9" width="5.25" height="45.3" fill="#5f5f5f"/>
<rect x="238.35" y="245.2" width="5.25" height="74.1" fill="#0cb0ef"/>
<rect x="250.99" y="191" width="5.25" height="7.9" fill="#0000f5"/>
<rect x="250.99" y="198.9" width="5.25" height="35.9" fill="#5f5f5f"/>
<rect x="250.99" y="234.8" width="5.25" height="84.5" fill="#0cb0ef"/>
<rect x="263.62" y="191" width="5.25" height="7.4" fill="#0000f5"/>
<rect x="263.62" y="198.4" width="5.25" height="27.6" fill="#5f5f5f"/>
<rect x="263.62" y="226" width="5.25" height="93.3" fill="#0cb0ef"/>
<rect x="276.26" y="191" width="5.25" height="23.1" fill="#0000f5"/>
<rect x="276.26" y="214.1" width="5.25" height="38" fill="#5f5f5f"/>
<rect x="276.26" y="252.1" width="5.25" height="67.2" fill="#0cb0ef"/>
<rect x="288.9" y="191" width="5.25" height="21.7" fill="#0000f5"/>
<rect x="288.9" y="212.7" width="5.25" height="27" fill="#5f5f5f"/>
<rect x="288.9" y="239.7" width="5.25" height="79.6" fill="#0cb0ef"/>
<rect x="301.53" y="191" width="5.25" height="19.8" fill="#0000f5"/>
<rect x="301.53" y="210.8" width="5.25" height="21.5" fill="#5f5f5f"/>
<rect x="301.53" y="232.3" width="5.25" height="87" fill="#0cb0ef"/>
<rect x="314.17" y="191" width="5.25" height="14.4" fill="#0000f5"/>
<rect x="314.17" y="205.4" width="5.25" height="39.8" fill="#5f5f5f"/>
<rect x="314.17" y="245.2" width="5.25" height="74.1" fill="#0cb0ef"/>
<rect x="326.81" y="191" width="5.25" height="12.9" fill="#0000f5"/>
<rect x="326.81" y="203.9" width="5.25" height="29.5" fill="#5f5f5f"/>
<rect x="326.81" y="233.4" width="5.25" height="85.9" fill="#0cb0ef"/>
<rect x="339.45" y="191" width="5.25" height="10.3" fill="#0000f5"/>
<rect x="339.45" y="201.3" width="5.25" height="22.7" fill="#5f5f5f"/>
<rect x="339.45" y="224" width="5.25" height="95.3" fill="#0cb0ef"/>
<rect x="352.08" y="191" width="5.25" height="10.2" fill="#0000f5"/>
<rect x="352.08" y="201.2" width="5.25" height="41.1" fill="#5f5f5f"/>
<rect x="352.08" y="242.3" width="5.25" height="77" fill="#0cb0ef"/>
<rect x="364.72" y="191" width="5.25" height="9.3" fill="#0000f5"/>
<rect x="364.72" y="200.3" width="5.25" height="30.3" fill="#5f5f5f"/>
<rect x="364.72" y="230.6" width="5.25" height="88.7" fill="#0cb0ef"/>
<rect x="377.36" y="191" width="5.25" height="7.3" fill="#0000f5"/>
<rect x="377.36" y="198.3" width="5.25" height="22.6" fill="#5f5f5f"/>
<rect x="377.36" y="220.9" width="5.25" height="98.4" fill="#0cb0ef"/>
<polyline points="51.42,232.3 64.06,220.4 76.69,210.2 89.33,230.5 101.97,218.5 114.6,209.4 127.24,229.5 139.88,216.9 152.51,209.4 165.15,238.4 177.79,227.3 190.43,218.5 203.06,235.6 215.7,223.2 228.34,213.6 240.97,233.4 253.61,221.3 266.25,212.7 278.89,249.9 291.52,238.4 304.16,230.1 316.8,243.9 329.43,231.5 342.07,221.3 354.71,239.4 367.34,228.5 379.98,218.9" fill="none" stroke="#c6e8f6" stroke-width="1.5"/>
<polyline points="51.42,245.9 64.06,261.5 76.69,278.3 89.33,245.2 101.97,260.4 114.6,277.1 127.24,245.2 139.88,260.3 152.51,276.1 165.15,267.3 177.79,279.7 190.43,289.6 203.06,265.9 215.7,278.8 228.34,289.3 240.97,265.9 253.61,277.8 266.25,287.4 278.89,284 291.52,293.4 304.16,299.7 316.8,281 329.43,291.8 342.07,298.4 354.71,281.5 367.34,291.2 379.98,298.4" fill="none" stroke="#3a3a3a" stroke-width="1.15" stroke-dasharray="2.2,1.6"/>
<polyline points="51.42,290 64.06,293.1 76.69,300.2 89.33,287.4 101.97,290.7 114.6,297.6 127.24,285.8 139.88,288.8 152.51,296.2 165.15,316.1 177.79,317 190.43,318.4 203.06,311.4 215.7,312.2 228.34,312.8 240.97,309.4 253.61,310 266.25,310.5 278.89,297.3 291.52,297.7 304.16,299.7 316.8,306.4 329.43,307.2 342.07,308.6 354.71,308.6 367.34,309.4 379.98,312.8" fill="none" stroke="#2626d2" stroke-width="1.4" stroke-dasharray="2.6,1.3"/>
<path d="M51.42,229.4 L53.57,234.4 L49.27,234.4 Z" fill="none" stroke="#e5505e" stroke-width="0.8"/>
<rect x="49.02" y="287.6" width="4.8" height="4.8" fill="none" stroke="#e8232d" stroke-width="1.05"/>
<path d="M64.06,217.5 L66.21,222.5 L61.91,222.5 Z" fill="none" stroke="#e5505e" stroke-width="0.8"/>
<rect x="61.66" y="290.7" width="4.8" height="4.8" fill="none" stroke="#e8232d" stroke-width="1.05"/>
<path d="M76.69,207.3 L78.84,212.3 L74.54,212.3 Z" fill="none" stroke="#e5505e" stroke-width="0.8"/>
<rect x="74.29" y="297.8" width="4.8" height="4.8" fill="none" stroke="#e8232d" stroke-width="1.05"/>
<path d="M89.33,227.6 L91.48,232.6 L87.18,232.6 Z" fill="none" stroke="#e5505e" stroke-width="0.8"/>
<rect x="86.93" y="285" width="4.8" height="4.8" fill="none" stroke="#e8232d" stroke-width="1.05"/>
<path d="M101.97,215.6 L104.12,220.6 L99.82,220.6 Z" fill="none" stroke="#e5505e" stroke-width="0.8"/>
<rect x="99.57" y="288.3" width="4.8" height="4.8" fill="none" stroke="#e8232d" stroke-width="1.05"/>
<path d="M114.6,206.5 L116.75,211.5 L112.45,211.5 Z" fill="none" stroke="#e5505e" stroke-width="0.8"/>
<rect x="112.2" y="295.2" width="4.8" height="4.8" fill="none" stroke="#e8232d" stroke-width="1.05"/>
<path d="M127.24,226.6 L129.39,231.6 L125.09,231.6 Z" fill="none" stroke="#e5505e" stroke-width="0.8"/>
<rect x="124.84" y="283.4" width="4.8" height="4.8" fill="none" stroke="#e8232d" stroke-width="1.05"/>
<path d="M139.88,214 L142.03,219 L137.73,219 Z" fill="none" stroke="#e5505e" stroke-width="0.8"/>
<rect x="137.48" y="286.4" width="4.8" height="4.8" fill="none" stroke="#e8232d" stroke-width="1.05"/>
<path d="M152.51,206.5 L154.66,211.5 L150.36,211.5 Z" fill="none" stroke="#e5505e" stroke-width="0.8"/>
<rect x="150.11" y="293.8" width="4.8" height="4.8" fill="none" stroke="#e8232d" stroke-width="1.05"/>
<path d="M165.15,235.5 L167.3,240.5 L163,240.5 Z" fill="none" stroke="#e5505e" stroke-width="0.8"/>
<rect x="162.75" y="313.7" width="4.8" height="4.8" fill="none" stroke="#e8232d" stroke-width="1.05"/>
<path d="M177.79,224.4 L179.94,229.4 L175.64,229.4 Z" fill="none" stroke="#e5505e" stroke-width="0.8"/>
<rect x="175.39" y="314.6" width="4.8" height="4.8" fill="none" stroke="#e8232d" stroke-width="1.05"/>
<path d="M190.43,215.6 L192.58,220.6 L188.28,220.6 Z" fill="none" stroke="#e5505e" stroke-width="0.8"/>
<rect x="188.03" y="316" width="4.8" height="4.8" fill="none" stroke="#e8232d" stroke-width="1.05"/>
<path d="M203.06,232.7 L205.21,237.7 L200.91,237.7 Z" fill="none" stroke="#e5505e" stroke-width="0.8"/>
<rect x="200.66" y="309" width="4.8" height="4.8" fill="none" stroke="#e8232d" stroke-width="1.05"/>
<path d="M215.7,220.3 L217.85,225.3 L213.55,225.3 Z" fill="none" stroke="#e5505e" stroke-width="0.8"/>
<rect x="213.3" y="309.8" width="4.8" height="4.8" fill="none" stroke="#e8232d" stroke-width="1.05"/>
<path d="M228.34,210.7 L230.49,215.7 L226.19,215.7 Z" fill="none" stroke="#e5505e" stroke-width="0.8"/>
<rect x="225.94" y="310.4" width="4.8" height="4.8" fill="none" stroke="#e8232d" stroke-width="1.05"/>
<path d="M240.97,230.5 L243.12,235.5 L238.82,235.5 Z" fill="none" stroke="#e5505e" stroke-width="0.8"/>
<rect x="238.57" y="307" width="4.8" height="4.8" fill="none" stroke="#e8232d" stroke-width="1.05"/>
<path d="M253.61,218.4 L255.76,223.4 L251.46,223.4 Z" fill="none" stroke="#e5505e" stroke-width="0.8"/>
<rect x="251.21" y="307.6" width="4.8" height="4.8" fill="none" stroke="#e8232d" stroke-width="1.05"/>
<path d="M266.25,209.8 L268.4,214.8 L264.1,214.8 Z" fill="none" stroke="#e5505e" stroke-width="0.8"/>
<rect x="263.85" y="308.1" width="4.8" height="4.8" fill="none" stroke="#e8232d" stroke-width="1.05"/>
<path d="M278.89,247 L281.04,252 L276.74,252 Z" fill="none" stroke="#e5505e" stroke-width="0.8"/>
<rect x="276.49" y="294.9" width="4.8" height="4.8" fill="none" stroke="#e8232d" stroke-width="1.05"/>
<path d="M291.52,235.5 L293.67,240.5 L289.37,240.5 Z" fill="none" stroke="#e5505e" stroke-width="0.8"/>
<rect x="289.12" y="295.3" width="4.8" height="4.8" fill="none" stroke="#e8232d" stroke-width="1.05"/>
<path d="M304.16,227.2 L306.31,232.2 L302.01,232.2 Z" fill="none" stroke="#e5505e" stroke-width="0.8"/>
<rect x="301.76" y="297.3" width="4.8" height="4.8" fill="none" stroke="#e8232d" stroke-width="1.05"/>
<path d="M316.8,241 L318.95,246 L314.65,246 Z" fill="none" stroke="#e5505e" stroke-width="0.8"/>
<rect x="314.4" y="304" width="4.8" height="4.8" fill="none" stroke="#e8232d" stroke-width="1.05"/>
<path d="M329.43,228.6 L331.58,233.6 L327.28,233.6 Z" fill="none" stroke="#e5505e" stroke-width="0.8"/>
<rect x="327.03" y="304.8" width="4.8" height="4.8" fill="none" stroke="#e8232d" stroke-width="1.05"/>
<path d="M342.07,218.4 L344.22,223.4 L339.92,223.4 Z" fill="none" stroke="#e5505e" stroke-width="0.8"/>
<rect x="339.67" y="306.2" width="4.8" height="4.8" fill="none" stroke="#e8232d" stroke-width="1.05"/>
<path d="M354.71,236.5 L356.86,241.5 L352.56,241.5 Z" fill="none" stroke="#e5505e" stroke-width="0.8"/>
<rect x="352.31" y="306.2" width="4.8" height="4.8" fill="none" stroke="#e8232d" stroke-width="1.05"/>
<path d="M367.34,225.6 L369.49,230.6 L365.19,230.6 Z" fill="none" stroke="#e5505e" stroke-width="0.8"/>
<rect x="364.94" y="307" width="4.8" height="4.8" fill="none" stroke="#e8232d" stroke-width="1.05"/>
<path d="M379.98,216 L382.13,221 L377.83,221 Z" fill="none" stroke="#e5505e" stroke-width="0.8"/>
<rect x="377.58" y="310.4" width="4.8" height="4.8" fill="none" stroke="#e8232d" stroke-width="1.05"/>
<circle cx="51.42" cy="245.9" r="2.1" fill="none" stroke="#e8232d" stroke-width="1.15"/>
<circle cx="64.06" cy="261.5" r="2.1" fill="none" stroke="#e8232d" stroke-width="1.15"/>
<circle cx="76.69" cy="278.3" r="2.1" fill="none" stroke="#e8232d" stroke-width="1.15"/>
<circle cx="89.33" cy="245.2" r="2.1" fill="none" stroke="#e8232d" stroke-width="1.15"/>
<circle cx="101.97" cy="260.4" r="2.1" fill="none" stroke="#e8232d" stroke-width="1.15"/>
<circle cx="114.6" cy="277.1" r="2.1" fill="none" stroke="#e8232d" stroke-width="1.15"/>
<circle cx="127.24" cy="245.2" r="2.1" fill="none" stroke="#e8232d" stroke-width="1.15"/>
<circle cx="139.88" cy="260.3" r="2.1" fill="none" stroke="#e8232d" stroke-width="1.15"/>
<circle cx="152.51" cy="276.1" r="2.1" fill="none" stroke="#e8232d" stroke-width="1.15"/>
<circle cx="165.15" cy="267.3" r="2.1" fill="none" stroke="#e8232d" stroke-width="1.15"/>
<circle cx="177.79" cy="279.7" r="2.1" fill="none" stroke="#e8232d" stroke-width="1.15"/>
<circle cx="190.43" cy="289.6" r="2.1" fill="none" stroke="#e8232d" stroke-width="1.15"/>
<circle cx="203.06" cy="265.9" r="2.1" fill="none" stroke="#e8232d" stroke-width="1.15"/>
<circle cx="215.7" cy="278.8" r="2.1" fill="none" stroke="#e8232d" stroke-width="1.15"/>
<circle cx="228.34" cy="289.3" r="2.1" fill="none" stroke="#e8232d" stroke-width="1.15"/>
<circle cx="240.97" cy="265.9" r="2.1" fill="none" stroke="#e8232d" stroke-width="1.15"/>
<circle cx="253.61" cy="277.8" r="2.1" fill="none" stroke="#e8232d" stroke-width="1.15"/>
<circle cx="266.25" cy="287.4" r="2.1" fill="none" stroke="#e8232d" stroke-width="1.15"/>
<circle cx="278.89" cy="284" r="2.1" fill="none" stroke="#e8232d" stroke-width="1.15"/>
<circle cx="291.52" cy="293.4" r="2.1" fill="none" stroke="#e8232d" stroke-width="1.15"/>
<circle cx="304.16" cy="299.7" r="2.1" fill="none" stroke="#e8232d" stroke-width="1.15"/>
<circle cx="316.8" cy="281" r="2.1" fill="none" stroke="#e8232d" stroke-width="1.15"/>
<circle cx="329.43" cy="291.8" r="2.1" fill="none" stroke="#e8232d" stroke-width="1.15"/>
<circle cx="342.07" cy="298.4" r="2.1" fill="none" stroke="#e8232d" stroke-width="1.15"/>
<circle cx="354.71" cy="281.5" r="2.1" fill="none" stroke="#e8232d" stroke-width="1.15"/>
<circle cx="367.34" cy="291.2" r="2.1" fill="none" stroke="#e8232d" stroke-width="1.15"/>
<circle cx="379.98" cy="298.4" r="2.1" fill="none" stroke="#e8232d" stroke-width="1.15"/>
<line x1="45.3" y1="191" x2="45.3" y2="319.3" stroke="#3c3c3c" stroke-width="1"/>
<line x1="42.3" y1="319.3" x2="47.1" y2="319.3" stroke="#3c3c3c" stroke-width="1"/>
<text x="36.9" y="322.3" text-anchor="end" font-size="8.8" fill="#3a3a3a" stroke="#3a3a3a" stroke-width="0.2" style="font-family:'Liberation Serif',serif">0%</text>
<line x1="45.3" y1="312.88" x2="46.9" y2="312.88" stroke="#3c3c3c" stroke-width="1"/>
<line x1="45.3" y1="306.47" x2="46.9" y2="306.47" stroke="#3c3c3c" stroke-width="1"/>
<line x1="45.3" y1="300.06" x2="46.9" y2="300.06" stroke="#3c3c3c" stroke-width="1"/>
<line x1="42.3" y1="293.64" x2="47.1" y2="293.64" stroke="#3c3c3c" stroke-width="1"/>
<text x="36.9" y="296.64" text-anchor="end" font-size="8.8" fill="#3a3a3a" stroke="#3a3a3a" stroke-width="0.2" style="font-family:'Liberation Serif',serif">20%</text>
<line x1="45.3" y1="287.23" x2="46.9" y2="287.23" stroke="#3c3c3c" stroke-width="1"/>
<line x1="45.3" y1="280.81" x2="46.9" y2="280.81" stroke="#3c3c3c" stroke-width="1"/>
<line x1="45.3" y1="274.39" x2="46.9" y2="274.39" stroke="#3c3c3c" stroke-width="1"/>
<line x1="42.3" y1="267.98" x2="47.1" y2="267.98" stroke="#3c3c3c" stroke-width="1"/>
<text x="36.9" y="270.98" text-anchor="end" font-size="8.8" fill="#3a3a3a" stroke="#3a3a3a" stroke-width="0.2" style="font-family:'Liberation Serif',serif">40%</text>
<line x1="45.3" y1="261.56" x2="46.9" y2="261.56" stroke="#3c3c3c" stroke-width="1"/>
<line x1="45.3" y1="255.15" x2="46.9" y2="255.15" stroke="#3c3c3c" stroke-width="1"/>
<line x1="45.3" y1="248.74" x2="46.9" y2="248.74" stroke="#3c3c3c" stroke-width="1"/>
<line x1="42.3" y1="242.32" x2="47.1" y2="242.32" stroke="#3c3c3c" stroke-width="1"/>
<text x="36.9" y="245.32" text-anchor="end" font-size="8.8" fill="#3a3a3a" stroke="#3a3a3a" stroke-width="0.2" style="font-family:'Liberation Serif',serif">60%</text>
<line x1="45.3" y1="235.91" x2="46.9" y2="235.91" stroke="#3c3c3c" stroke-width="1"/>
<line x1="45.3" y1="229.49" x2="46.9" y2="229.49" stroke="#3c3c3c" stroke-width="1"/>
<line x1="45.3" y1="223.07" x2="46.9" y2="223.07" stroke="#3c3c3c" stroke-width="1"/>
<line x1="42.3" y1="216.66" x2="47.1" y2="216.66" stroke="#3c3c3c" stroke-width="1"/>
<text x="36.9" y="219.66" text-anchor="end" font-size="8.8" fill="#3a3a3a" stroke="#3a3a3a" stroke-width="0.2" style="font-family:'Liberation Serif',serif">80%</text>
<line x1="45.3" y1="210.25" x2="46.9" y2="210.25" stroke="#3c3c3c" stroke-width="1"/>
<line x1="45.3" y1="203.83" x2="46.9" y2="203.83" stroke="#3c3c3c" stroke-width="1"/>
<line x1="45.3" y1="197.41" x2="46.9" y2="197.41" stroke="#3c3c3c" stroke-width="1"/>
<line x1="42.3" y1="191" x2="47.1" y2="191" stroke="#3c3c3c" stroke-width="1"/>
<text x="36.9" y="194" text-anchor="end" font-size="8.8" fill="#3a3a3a" stroke="#3a3a3a" stroke-width="0.2" style="font-family:'Liberation Serif',serif">100%</text>
<line x1="386.2" y1="191" x2="386.2" y2="319.3" stroke="#e8232d" stroke-width="1"/>
<line x1="384.2" y1="319.3" x2="388.8" y2="319.3" stroke="#e8232d" stroke-width="1"/>
<text x="394.2" y="322.3" font-size="8.6" fill="#e33a44" stroke="#e33a44" stroke-width="0.2" style="font-family:'Liberation Serif',serif">0.0</text>
<line x1="384.6" y1="310.14" x2="386.2" y2="310.14" stroke="#e8232d" stroke-width="1"/>
<line x1="384.2" y1="300.97" x2="388.8" y2="300.97" stroke="#e8232d" stroke-width="1"/>
<text x="394.2" y="303.97" font-size="8.6" fill="#e33a44" stroke="#e33a44" stroke-width="0.2" style="font-family:'Liberation Serif',serif">1.0</text>
<line x1="384.6" y1="291.81" x2="386.2" y2="291.81" stroke="#e8232d" stroke-width="1"/>
<line x1="384.2" y1="282.64" x2="388.8" y2="282.64" stroke="#e8232d" stroke-width="1"/>
<text x="394.2" y="285.64" font-size="8.6" fill="#e33a44" stroke="#e33a44" stroke-width="0.2" style="font-family:'Liberation Serif',serif">2.0</text>
<line x1="384.6" y1="273.48" x2="386.2" y2="273.48" stroke="#e8232d" stroke-width="1"/>
<line x1="384.2" y1="264.31" x2="388.8" y2="264.31" stroke="#e8232d" stroke-width="1"/>
<text x="394.2" y="267.31" font-size="8.6" fill="#e33a44" stroke="#e33a44" stroke-width="0.2" style="font-family:'Liberation Serif',serif">3.0</text>
<line x1="384.6" y1="255.15" x2="386.2" y2="255.15" stroke="#e8232d" stroke-width="1"/>
<line x1="384.2" y1="245.99" x2="388.8" y2="245.99" stroke="#e8232d" stroke-width="1"/>
<text x="394.2" y="248.99" font-size="8.6" fill="#e33a44" stroke="#e33a44" stroke-width="0.2" style="font-family:'Liberation Serif',serif">4.0</text>
<line x1="384.6" y1="236.82" x2="386.2" y2="236.82" stroke="#e8232d" stroke-width="1"/>
<line x1="384.2" y1="227.66" x2="388.8" y2="227.66" stroke="#e8232d" stroke-width="1"/>
<text x="394.2" y="230.66" font-size="8.6" fill="#e33a44" stroke="#e33a44" stroke-width="0.2" style="font-family:'Liberation Serif',serif">5.0</text>
<line x1="384.6" y1="218.49" x2="386.2" y2="218.49" stroke="#e8232d" stroke-width="1"/>
<line x1="384.2" y1="209.33" x2="388.8" y2="209.33" stroke="#e8232d" stroke-width="1"/>
<text x="394.2" y="212.33" font-size="8.6" fill="#e33a44" stroke="#e33a44" stroke-width="0.2" style="font-family:'Liberation Serif',serif">6.0</text>
<line x1="384.6" y1="200.16" x2="386.2" y2="200.16" stroke="#e8232d" stroke-width="1"/>
<line x1="384.2" y1="191" x2="388.8" y2="191" stroke="#e8232d" stroke-width="1"/>
<text x="394.2" y="194" font-size="8.6" fill="#e33a44" stroke="#e33a44" stroke-width="0.2" style="font-family:'Liberation Serif',serif">7.0</text>
<line x1="42.3" y1="319.3" x2="386.2" y2="319.3" stroke="#3c3c3c" stroke-width="1"/>
<line x1="57.74" y1="319.3" x2="57.74" y2="322.1" stroke="#3c3c3c" stroke-width="1"/>
<line x1="70.37" y1="319.3" x2="70.37" y2="322.1" stroke="#3c3c3c" stroke-width="1"/>
<line x1="83.01" y1="319.3" x2="83.01" y2="322.1" stroke="#3c3c3c" stroke-width="1"/>
<line x1="95.65" y1="319.3" x2="95.65" y2="322.1" stroke="#3c3c3c" stroke-width="1"/>
<line x1="108.29" y1="319.3" x2="108.29" y2="322.1" stroke="#3c3c3c" stroke-width="1"/>
<line x1="120.92" y1="319.3" x2="120.92" y2="322.1" stroke="#3c3c3c" stroke-width="1"/>
<line x1="133.56" y1="319.3" x2="133.56" y2="322.1" stroke="#3c3c3c" stroke-width="1"/>
<line x1="146.2" y1="319.3" x2="146.2" y2="322.1" stroke="#3c3c3c" stroke-width="1"/>
<line x1="158.83" y1="319.3" x2="158.83" y2="322.1" stroke="#3c3c3c" stroke-width="1"/>
<line x1="171.47" y1="319.3" x2="171.47" y2="322.1" stroke="#3c3c3c" stroke-width="1"/>
<line x1="184.11" y1="319.3" x2="184.11" y2="322.1" stroke="#3c3c3c" stroke-width="1"/>
<line x1="196.74" y1="319.3" x2="196.74" y2="322.1" stroke="#3c3c3c" stroke-width="1"/>
<line x1="209.38" y1="319.3" x2="209.38" y2="322.1" stroke="#3c3c3c" stroke-width="1"/>
<line x1="222.02" y1="319.3" x2="222.02" y2="322.1" stroke="#3c3c3c" stroke-width="1"/>
<line x1="234.66" y1="319.3" x2="234.66" y2="322.1" stroke="#3c3c3c" stroke-width="1"/>
<line x1="247.29" y1="319.3" x2="247.29" y2="322.1" stroke="#3c3c3c" stroke-width="1"/>
<line x1="259.93" y1="319.3" x2="259.93" y2="322.1" stroke="#3c3c3c" stroke-width="1"/>
<line x1="272.57" y1="319.3" x2="272.57" y2="322.1" stroke="#3c3c3c" stroke-width="1"/>
<line x1="285.2" y1="319.3" x2="285.2" y2="322.1" stroke="#3c3c3c" stroke-width="1"/>
<line x1="297.84" y1="319.3" x2="297.84" y2="322.1" stroke="#3c3c3c" stroke-width="1"/>
<line x1="310.48" y1="319.3" x2="310.48" y2="322.1" stroke="#3c3c3c" stroke-width="1"/>
<line x1="323.11" y1="319.3" x2="323.11" y2="322.1" stroke="#3c3c3c" stroke-width="1"/>
<line x1="335.75" y1="319.3" x2="335.75" y2="322.1" stroke="#3c3c3c" stroke-width="1"/>
<line x1="348.39" y1="319.3" x2="348.39" y2="322.1" stroke="#3c3c3c" stroke-width="1"/>
<line x1="361.03" y1="319.3" x2="361.03" y2="322.1" stroke="#3c3c3c" stroke-width="1"/>
<line x1="373.66" y1="319.3" x2="373.66" y2="322.1" stroke="#3c3c3c" stroke-width="1"/>
<line x1="386.3" y1="319.3" x2="386.3" y2="322.1" stroke="#3c3c3c" stroke-width="1"/>
<text transform="translate(54.42,327.7) rotate(-90)" text-anchor="end" font-size="9.0" fill="#3a3a3a" stroke="#3a3a3a" stroke-width="0.2" style="font-family:'Liberation Serif',serif">Cem01</text>
<text transform="translate(67.06,324.9) rotate(-90)" text-anchor="end" font-size="9.0" fill="#3a3a3a" stroke="#3a3a3a" stroke-width="0.2" style="font-family:'Liberation Serif',serif">Cem02</text>
<text transform="translate(79.69,324.9) rotate(-90)" text-anchor="end" font-size="9.0" fill="#3a3a3a" stroke="#3a3a3a" stroke-width="0.2" style="font-family:'Liberation Serif',serif">Cem03</text>
<text transform="translate(92.33,324.9) rotate(-90)" text-anchor="end" font-size="9.0" fill="#3a3a3a" stroke="#3a3a3a" stroke-width="0.2" style="font-family:'Liberation Serif',serif">Cem04</text>
<text transform="translate(104.97,324.9) rotate(-90)" text-anchor="end" font-size="9.0" fill="#3a3a3a" stroke="#3a3a3a" stroke-width="0.2" style="font-family:'Liberation Serif',serif">Cem05</text>
<text transform="translate(117.6,324.9) rotate(-90)" text-anchor="end" font-size="9.0" fill="#3a3a3a" stroke="#3a3a3a" stroke-width="0.2" style="font-family:'Liberation Serif',serif">Cem06</text>
<text transform="translate(130.24,324.9) rotate(-90)" text-anchor="end" font-size="9.0" fill="#3a3a3a" stroke="#3a3a3a" stroke-width="0.2" style="font-family:'Liberation Serif',serif">Cem07</text>
<text transform="translate(142.88,324.9) rotate(-90)" text-anchor="end" font-size="9.0" fill="#3a3a3a" stroke="#3a3a3a" stroke-width="0.2" style="font-family:'Liberation Serif',serif">Cem08</text>
<text transform="translate(155.51,324.9) rotate(-90)" text-anchor="end" font-size="9.0" fill="#3a3a3a" stroke="#3a3a3a" stroke-width="0.2" style="font-family:'Liberation Serif',serif">Cem09</text>
<text transform="translate(168.15,324.9) rotate(-90)" text-anchor="end" font-size="9.0" fill="#3a3a3a" stroke="#3a3a3a" stroke-width="0.2" style="font-family:'Liberation Serif',serif">Cem10</text>
<text transform="translate(180.79,324.9) rotate(-90)" text-anchor="end" font-size="9.0" fill="#3a3a3a" stroke="#3a3a3a" stroke-width="0.2" style="font-family:'Liberation Serif',serif">Cem11</text>
<text transform="translate(193.43,324.9) rotate(-90)" text-anchor="end" font-size="9.0" fill="#3a3a3a" stroke="#3a3a3a" stroke-width="0.2" style="font-family:'Liberation Serif',serif">Cem12</text>
<text transform="translate(206.06,324.9) rotate(-90)" text-anchor="end" font-size="9.0" fill="#3a3a3a" stroke="#3a3a3a" stroke-width="0.2" style="font-family:'Liberation Serif',serif">Cem13</text>
<text transform="translate(218.7,324.9) rotate(-90)" text-anchor="end" font-size="9.0" fill="#3a3a3a" stroke="#3a3a3a" stroke-width="0.2" style="font-family:'Liberation Serif',serif">Cem14</text>
<text transform="translate(231.34,324.9) rotate(-90)" text-anchor="end" font-size="9.0" fill="#3a3a3a" stroke="#3a3a3a" stroke-width="0.2" style="font-family:'Liberation Serif',serif">Cem15</text>
<text transform="translate(243.97,324.9) rotate(-90)" text-anchor="end" font-size="9.0" fill="#3a3a3a" stroke="#3a3a3a" stroke-width="0.2" style="font-family:'Liberation Serif',serif">Cem16</text>
<text transform="translate(256.61,324.9) rotate(-90)" text-anchor="end" font-size="9.0" fill="#3a3a3a" stroke="#3a3a3a" stroke-width="0.2" style="font-family:'Liberation Serif',serif">Cem17</text>
<text transform="translate(269.25,324.9) rotate(-90)" text-anchor="end" font-size="9.0" fill="#3a3a3a" stroke="#3a3a3a" stroke-width="0.2" style="font-family:'Liberation Serif',serif">Cem18</text>
<text transform="translate(281.89,324.9) rotate(-90)" text-anchor="end" font-size="9.0" fill="#3a3a3a" stroke="#3a3a3a" stroke-width="0.2" style="font-family:'Liberation Serif',serif">Cem19</text>
<text transform="translate(294.52,324.9) rotate(-90)" text-anchor="end" font-size="9.0" fill="#3a3a3a" stroke="#3a3a3a" stroke-width="0.2" style="font-family:'Liberation Serif',serif">Cem20</text>
<text transform="translate(307.16,324.9) rotate(-90)" text-anchor="end" font-size="9.0" fill="#3a3a3a" stroke="#3a3a3a" stroke-width="0.2" style="font-family:'Liberation Serif',serif">Cem21</text>
<text transform="translate(319.8,324.9) rotate(-90)" text-anchor="end" font-size="9.0" fill="#3a3a3a" stroke="#3a3a3a" stroke-width="0.2" style="font-family:'Liberation Serif',serif">Cem22</text>
<text transform="translate(332.43,324.9) rotate(-90)" text-anchor="end" font-size="9.0" fill="#3a3a3a" stroke="#3a3a3a" stroke-width="0.2" style="font-family:'Liberation Serif',serif">Cem23</text>
<text transform="translate(345.07,324.9) rotate(-90)" text-anchor="end" font-size="9.0" fill="#3a3a3a" stroke="#3a3a3a" stroke-width="0.2" style="font-family:'Liberation Serif',serif">Cem24</text>
<text transform="translate(357.71,324.9) rotate(-90)" text-anchor="end" font-size="9.0" fill="#3a3a3a" stroke="#3a3a3a" stroke-width="0.2" style="font-family:'Liberation Serif',serif">Cem25</text>
<text transform="translate(370.34,324.9) rotate(-90)" text-anchor="end" font-size="9.0" fill="#3a3a3a" stroke="#3a3a3a" stroke-width="0.2" style="font-family:'Liberation Serif',serif">Cem26</text>
<text transform="translate(382.98,324.9) rotate(-90)" text-anchor="end" font-size="9.0" fill="#3a3a3a" stroke="#3a3a3a" stroke-width="0.2" style="font-family:'Liberation Serif',serif">Cem27</text>
<text transform="translate(14.6,278.7) rotate(-90)" text-anchor="middle" font-size="10.3" fill="#3a3a3a" stroke="#3a3a3a" stroke-width="0.2" style="font-family:'Liberation Serif',serif">Percentage (%)</text>
<text transform="translate(415.2,259.95) rotate(-90)" text-anchor="middle" font-size="10.5" fill="#e33a44" stroke="#e33a44" stroke-width="0.2" style="font-family:'Liberation Serif',serif">Volume(m<tspan dy="-3.5" font-size="6.3">3</tspan><tspan dy="3.5">)</tspan></text>
<text x="11" y="361.3" font-size="10" fill="#3a3a3a" stroke="#3a3a3a" stroke-width="0.2" style="font-family:'Liberation Serif',serif">(b)</text>
<rect x="46.8" y="355.1" width="25.2" height="4.2" fill="#0cb0ef"/>
<text x="75.1" y="360.4" font-style="italic" font-size="9.1" fill="#3a3a3a" stroke="#3a3a3a" stroke-width="0.2" style="font-family:'Liberation Serif',serif">Pci</text>
<rect x="105.2" y="355.1" width="25.2" height="4.2" fill="#5f5f5f"/>
<text x="133.5" y="360.4" font-style="italic" font-size="9.1" fill="#3a3a3a" stroke="#3a3a3a" stroke-width="0.2" style="font-family:'Liberation Serif',serif">Prg</text>
<rect x="163.6" y="355.1" width="25.2" height="4.2" fill="#0000f5"/>
<text x="191.9" y="360.4" font-style="italic" font-size="9.1" fill="#3a3a3a" stroke="#3a3a3a" stroke-width="0.2" style="font-family:'Liberation Serif',serif">Pbp</text>
<line x1="222" y1="357.2" x2="248" y2="357.2" stroke="#c6e8f6" stroke-width="1"/>
<path d="M235,354.6 L237.7,359.2 L232.3,359.2 Z" fill="none" stroke="#e8232d" stroke-width="0.9"/>
<text x="251" y="360.4" font-style="italic" font-size="9.1" fill="#3a3a3a" stroke="#3a3a3a" stroke-width="0.2" style="font-family:'Liberation Serif',serif">Vci</text>
<line x1="280.4" y1="357.2" x2="305.9" y2="357.2" stroke="#3a3a3a" stroke-width="1.1" stroke-dasharray="2.2,1.7"/>
<circle cx="293" cy="357.2" r="2.1" fill="none" stroke="#e8232d" stroke-width="1.2"/>
<text x="308.2" y="360.4" font-style="italic" font-size="9.1" fill="#3a3a3a" stroke="#3a3a3a" stroke-width="0.2" style="font-family:'Liberation Serif',serif">Vrg</text>
<line x1="338.8" y1="357.2" x2="364.8" y2="357.2" stroke="#2626d2" stroke-width="1.3" stroke-dasharray="2.2,1.5"/>
<rect x="349.5" y="354.9" width="4.6" height="4.6" fill="none" stroke="#e8232d" stroke-width="1"/>
<text x="368.8" y="360.4" font-style="italic" font-size="9.1" fill="#3a3a3a" stroke="#3a3a3a" stroke-width="0.2" style="font-family:'Liberation Serif',serif">Vbp</text>
<text x="94.5" y="185.9" text-anchor="middle" font-size="9.6" fill="#3a3a3a" stroke="#3a3a3a" stroke-width="0.2" style="font-family:'Liberation Serif',serif">I</text>
<text x="213.3" y="185.9" text-anchor="middle" font-size="9.6" fill="#3a3a3a" stroke="#3a3a3a" stroke-width="0.2" style="font-family:'Liberation Serif',serif">II</text>
<text x="331" y="185.9" text-anchor="middle" font-size="9.6" fill="#3a3a3a" stroke="#3a3a3a" stroke-width="0.2" style="font-family:'Liberation Serif',serif">III</text>
<line x1="42.5" y1="372.7" x2="384.6" y2="372.7" stroke="#cfcabb" stroke-width="0.8"/>
<rect x="46.35" y="372.7" width="5.15" height="4.4" fill="#0000f5"/>
<rect x="46.35" y="377.1" width="5.15" height="59.1" fill="#5f5f5f"/>
<rect x="46.35" y="436.2" width="5.15" height="66.1" fill="#0cb0ef"/>
<rect x="59.01" y="372.7" width="5.15" height="4.4" fill="#0000f5"/>
<rect x="59.01" y="377.1" width="5.15" height="53.4" fill="#5f5f5f"/>
<rect x="59.01" y="430.5" width="5.15" height="71.8" fill="#0cb0ef"/>
<rect x="71.67" y="372.7" width="5.15" height="4.4" fill="#0000f5"/>
<rect x="71.67" y="377.1" width="5.15" height="41.9" fill="#5f5f5f"/>
<rect x="71.67" y="419" width="5.15" height="83.3" fill="#0cb0ef"/>
<rect x="84.33" y="372.7" width="5.15" height="9.1" fill="#0000f5"/>
<rect x="84.33" y="381.8" width="5.15" height="46.1" fill="#5f5f5f"/>
<rect x="84.33" y="427.9" width="5.15" height="74.4" fill="#0cb0ef"/>
<rect x="96.99" y="372.7" width="5.15" height="8.9" fill="#0000f5"/>
<rect x="96.99" y="381.6" width="5.15" height="39.3" fill="#5f5f5f"/>
<rect x="96.99" y="420.9" width="5.15" height="81.4" fill="#0cb0ef"/>
<rect x="109.65" y="372.7" width="5.15" height="7.7" fill="#0000f5"/>
<rect x="109.65" y="380.4" width="5.15" height="29.6" fill="#5f5f5f"/>
<rect x="109.65" y="410" width="5.15" height="92.3" fill="#0cb0ef"/>
<rect x="122.31" y="372.7" width="5.15" height="12.7" fill="#0000f5"/>
<rect x="122.31" y="385.4" width="5.15" height="36.3" fill="#5f5f5f"/>
<rect x="122.31" y="421.7" width="5.15" height="80.6" fill="#0cb0ef"/>
<rect x="134.97" y="372.7" width="5.15" height="11.8" fill="#0000f5"/>
<rect x="134.97" y="384.5" width="5.15" height="32.5" fill="#5f5f5f"/>
<rect x="134.97" y="417" width="5.15" height="85.3" fill="#0cb0ef"/>
<rect x="147.63" y="372.7" width="5.15" height="10.3" fill="#0000f5"/>
<rect x="147.63" y="383" width="5.15" height="26.3" fill="#5f5f5f"/>
<rect x="147.63" y="409.3" width="5.15" height="93" fill="#0cb0ef"/>
<rect x="160.29" y="372.7" width="5.15" height="17.5" fill="#0000f5"/>
<rect x="160.29" y="390.2" width="5.15" height="50.4" fill="#5f5f5f"/>
<rect x="160.29" y="440.6" width="5.15" height="61.7" fill="#0cb0ef"/>
<rect x="172.95" y="372.7" width="5.15" height="14.6" fill="#0000f5"/>
<rect x="172.95" y="387.3" width="5.15" height="47" fill="#5f5f5f"/>
<rect x="172.95" y="434.3" width="5.15" height="68" fill="#0cb0ef"/>
<rect x="185.61" y="372.7" width="5.15" height="9.9" fill="#0000f5"/>
<rect x="185.61" y="382.6" width="5.15" height="40.7" fill="#5f5f5f"/>
<rect x="185.61" y="423.3" width="5.15" height="79" fill="#0cb0ef"/>
<rect x="198.27" y="372.7" width="5.15" height="8.2" fill="#0000f5"/>
<rect x="198.27" y="380.9" width="5.15" height="40.3" fill="#5f5f5f"/>
<rect x="198.27" y="421.2" width="5.15" height="81.1" fill="#0cb0ef"/>
<rect x="210.92" y="372.7" width="5.15" height="6.3" fill="#0000f5"/>
<rect x="210.92" y="379" width="5.15" height="36" fill="#5f5f5f"/>
<rect x="210.92" y="415" width="5.15" height="87.3" fill="#0cb0ef"/>
<rect x="223.58" y="372.7" width="5.15" height="3.6" fill="#0000f5"/>
<rect x="223.58" y="376.3" width="5.15" height="28.7" fill="#5f5f5f"/>
<rect x="223.58" y="405" width="5.15" height="97.3" fill="#0cb0ef"/>
<rect x="236.24" y="372.7" width="5.15" height="3" fill="#0000f5"/>
<rect x="236.24" y="375.7" width="5.15" height="30.8" fill="#5f5f5f"/>
<rect x="236.24" y="406.5" width="5.15" height="95.8" fill="#0cb0ef"/>
<rect x="248.9" y="372.7" width="5.15" height="2.2" fill="#0000f5"/>
<rect x="248.9" y="374.9" width="5.15" height="27.9" fill="#5f5f5f"/>
<rect x="248.9" y="402.8" width="5.15" height="99.5" fill="#0cb0ef"/>
<rect x="261.56" y="372.7" width="5.15" height="0.3" fill="#0000f5"/>
<rect x="261.56" y="373" width="5.15" height="22.6" fill="#5f5f5f"/>
<rect x="261.56" y="395.6" width="5.15" height="106.7" fill="#0cb0ef"/>
<rect x="274.22" y="372.7" width="5.15" height="34.6" fill="#0000f5"/>
<rect x="274.22" y="407.3" width="5.15" height="42.8" fill="#5f5f5f"/>
<rect x="274.22" y="450.1" width="5.15" height="52.2" fill="#0cb0ef"/>
<rect x="286.88" y="372.7" width="5.15" height="31.8" fill="#0000f5"/>
<rect x="286.88" y="404.5" width="5.15" height="40" fill="#5f5f5f"/>
<rect x="286.88" y="444.5" width="5.15" height="57.8" fill="#0cb0ef"/>
<rect x="299.54" y="372.7" width="5.15" height="27.5" fill="#0000f5"/>
<rect x="299.54" y="400.2" width="5.15" height="34.6" fill="#5f5f5f"/>
<rect x="299.54" y="434.8" width="5.15" height="67.5" fill="#0cb0ef"/>
<rect x="312.2" y="372.7" width="5.15" height="19.5" fill="#0000f5"/>
<rect x="312.2" y="392.2" width="5.15" height="36.4" fill="#5f5f5f"/>
<rect x="312.2" y="428.6" width="5.15" height="73.7" fill="#0cb0ef"/>
<rect x="324.86" y="372.7" width="5.15" height="18.4" fill="#0000f5"/>
<rect x="324.86" y="391.1" width="5.15" height="31.8" fill="#5f5f5f"/>
<rect x="324.86" y="422.9" width="5.15" height="79.4" fill="#0cb0ef"/>
<rect x="337.52" y="372.7" width="5.15" height="15.1" fill="#0000f5"/>
<rect x="337.52" y="387.8" width="5.15" height="26.3" fill="#5f5f5f"/>
<rect x="337.52" y="414.1" width="5.15" height="88.2" fill="#0cb0ef"/>
<rect x="350.18" y="372.7" width="5.15" height="15.1" fill="#0000f5"/>
<rect x="350.18" y="387.8" width="5.15" height="26.3" fill="#5f5f5f"/>
<rect x="350.18" y="414.1" width="5.15" height="88.2" fill="#0cb0ef"/>
<rect x="362.84" y="372.7" width="5.15" height="13.9" fill="#0000f5"/>
<rect x="362.84" y="386.6" width="5.15" height="22.6" fill="#5f5f5f"/>
<rect x="362.84" y="409.2" width="5.15" height="93.1" fill="#0cb0ef"/>
<rect x="375.5" y="372.7" width="5.15" height="11.2" fill="#0000f5"/>
<rect x="375.5" y="383.9" width="5.15" height="19.6" fill="#5f5f5f"/>
<rect x="375.5" y="403.5" width="5.15" height="98.8" fill="#0cb0ef"/>
<polyline points="48.93,430 61.59,423.2 74.25,411.5 86.91,414.3 99.57,408 112.23,396.4 124.89,400.3 137.54,394.7 150.2,389.5 162.86,436.3 175.52,430 188.18,419 200.84,419.2 213.5,410.9 226.16,401.1 238.82,404.3 251.48,397.9 264.14,392.2 276.8,447.9 289.46,441 302.11,432.8 314.77,426.7 327.43,420.2 340.09,412.2 352.75,411.4 365.41,405.2 378.07,399.5" fill="none" stroke="#c6e8f6" stroke-width="1.5"/>
<polyline points="48.93,436.3 61.59,442.9 74.25,456.1 86.91,447.9 99.57,455.5 112.23,467.2 124.89,455.6 137.54,461.7 150.2,470 162.86,452.7 175.52,456.9 188.18,463.1 200.84,461.7 213.5,467.1 226.16,474.8 238.82,472.2 251.48,475.5 264.14,479 276.8,460.3 289.46,463.1 302.11,467.7 314.77,466.5 327.43,470.8 340.09,477.5 352.75,479 365.41,481.7 378.07,484.4" fill="none" stroke="#3a3a3a" stroke-width="1.15" stroke-dasharray="2.2,1.6"/>
<polyline points="48.93,496.6 61.59,496.6 74.25,496.6 86.91,490.6 99.57,491.8 112.23,494.1 124.89,485.1 137.54,486.5 150.2,489.9 162.86,485.4 175.52,487 188.18,491.7 200.84,493.9 213.5,495.8 226.16,498 238.82,498.8 251.48,499.3 264.14,501.4 276.8,468.6 289.46,470.5 302.11,475.3 314.77,483 327.43,484.2 340.09,486.5 352.75,486.4 365.41,487.5 378.07,489.7" fill="none" stroke="#2626d2" stroke-width="1.4" stroke-dasharray="2.6,1.3"/>
<path d="M48.93,427.1 L51.08,432.1 L46.78,432.1 Z" fill="none" stroke="#e5505e" stroke-width="0.8"/>
<rect x="46.53" y="494.2" width="4.8" height="4.8" fill="none" stroke="#e8232d" stroke-width="1.05"/>
<path d="M61.59,420.3 L63.74,425.3 L59.44,425.3 Z" fill="none" stroke="#e5505e" stroke-width="0.8"/>
<rect x="59.19" y="494.2" width="4.8" height="4.8" fill="none" stroke="#e8232d" stroke-width="1.05"/>
<path d="M74.25,408.6 L76.4,413.6 L72.1,413.6 Z" fill="none" stroke="#e5505e" stroke-width="0.8"/>
<rect x="71.85" y="494.2" width="4.8" height="4.8" fill="none" stroke="#e8232d" stroke-width="1.05"/>
<path d="M86.91,411.4 L89.06,416.4 L84.76,416.4 Z" fill="none" stroke="#e5505e" stroke-width="0.8"/>
<rect x="84.51" y="488.2" width="4.8" height="4.8" fill="none" stroke="#e8232d" stroke-width="1.05"/>
<path d="M99.57,405.1 L101.72,410.1 L97.42,410.1 Z" fill="none" stroke="#e5505e" stroke-width="0.8"/>
<rect x="97.17" y="489.4" width="4.8" height="4.8" fill="none" stroke="#e8232d" stroke-width="1.05"/>
<path d="M112.23,393.5 L114.38,398.5 L110.08,398.5 Z" fill="none" stroke="#e5505e" stroke-width="0.8"/>
<rect x="109.83" y="491.7" width="4.8" height="4.8" fill="none" stroke="#e8232d" stroke-width="1.05"/>
<path d="M124.89,397.4 L127.04,402.4 L122.74,402.4 Z" fill="none" stroke="#e5505e" stroke-width="0.8"/>
<rect x="122.49" y="482.7" width="4.8" height="4.8" fill="none" stroke="#e8232d" stroke-width="1.05"/>
<path d="M137.54,391.8 L139.69,396.8 L135.39,396.8 Z" fill="none" stroke="#e5505e" stroke-width="0.8"/>
<rect x="135.14" y="484.1" width="4.8" height="4.8" fill="none" stroke="#e8232d" stroke-width="1.05"/>
<path d="M150.2,386.6 L152.35,391.6 L148.05,391.6 Z" fill="none" stroke="#e5505e" stroke-width="0.8"/>
<rect x="147.8" y="487.5" width="4.8" height="4.8" fill="none" stroke="#e8232d" stroke-width="1.05"/>
<path d="M162.86,433.4 L165.01,438.4 L160.71,438.4 Z" fill="none" stroke="#e5505e" stroke-width="0.8"/>
<rect x="160.46" y="483" width="4.8" height="4.8" fill="none" stroke="#e8232d" stroke-width="1.05"/>
<path d="M175.52,427.1 L177.67,432.1 L173.37,432.1 Z" fill="none" stroke="#e5505e" stroke-width="0.8"/>
<rect x="173.12" y="484.6" width="4.8" height="4.8" fill="none" stroke="#e8232d" stroke-width="1.05"/>
<path d="M188.18,416.1 L190.33,421.1 L186.03,421.1 Z" fill="none" stroke="#e5505e" stroke-width="0.8"/>
<rect x="185.78" y="489.3" width="4.8" height="4.8" fill="none" stroke="#e8232d" stroke-width="1.05"/>
<path d="M200.84,416.3 L202.99,421.3 L198.69,421.3 Z" fill="none" stroke="#e5505e" stroke-width="0.8"/>
<rect x="198.44" y="491.5" width="4.8" height="4.8" fill="none" stroke="#e8232d" stroke-width="1.05"/>
<path d="M213.5,408 L215.65,413 L211.35,413 Z" fill="none" stroke="#e5505e" stroke-width="0.8"/>
<rect x="211.1" y="493.4" width="4.8" height="4.8" fill="none" stroke="#e8232d" stroke-width="1.05"/>
<path d="M226.16,398.2 L228.31,403.2 L224.01,403.2 Z" fill="none" stroke="#e5505e" stroke-width="0.8"/>
<rect x="223.76" y="495.6" width="4.8" height="4.8" fill="none" stroke="#e8232d" stroke-width="1.05"/>
<path d="M238.82,401.4 L240.97,406.4 L236.67,406.4 Z" fill="none" stroke="#e5505e" stroke-width="0.8"/>
<rect x="236.42" y="496.4" width="4.8" height="4.8" fill="none" stroke="#e8232d" stroke-width="1.05"/>
<path d="M251.48,395 L253.63,400 L249.33,400 Z" fill="none" stroke="#e5505e" stroke-width="0.8"/>
<rect x="249.08" y="496.9" width="4.8" height="4.8" fill="none" stroke="#e8232d" stroke-width="1.05"/>
<path d="M264.14,389.3 L266.29,394.3 L261.99,394.3 Z" fill="none" stroke="#e5505e" stroke-width="0.8"/>
<rect x="261.74" y="499" width="4.8" height="4.8" fill="none" stroke="#e8232d" stroke-width="1.05"/>
<path d="M276.8,445 L278.95,450 L274.65,450 Z" fill="none" stroke="#e5505e" stroke-width="0.8"/>
<rect x="274.4" y="466.2" width="4.8" height="4.8" fill="none" stroke="#e8232d" stroke-width="1.05"/>
<path d="M289.46,438.1 L291.61,443.1 L287.31,443.1 Z" fill="none" stroke="#e5505e" stroke-width="0.8"/>
<rect x="287.06" y="468.1" width="4.8" height="4.8" fill="none" stroke="#e8232d" stroke-width="1.05"/>
<path d="M302.11,429.9 L304.26,434.9 L299.96,434.9 Z" fill="none" stroke="#e5505e" stroke-width="0.8"/>
<rect x="299.71" y="472.9" width="4.8" height="4.8" fill="none" stroke="#e8232d" stroke-width="1.05"/>
<path d="M314.77,423.8 L316.92,428.8 L312.62,428.8 Z" fill="none" stroke="#e5505e" stroke-width="0.8"/>
<rect x="312.37" y="480.6" width="4.8" height="4.8" fill="none" stroke="#e8232d" stroke-width="1.05"/>
<path d="M327.43,417.3 L329.58,422.3 L325.28,422.3 Z" fill="none" stroke="#e5505e" stroke-width="0.8"/>
<rect x="325.03" y="481.8" width="4.8" height="4.8" fill="none" stroke="#e8232d" stroke-width="1.05"/>
<path d="M340.09,409.3 L342.24,414.3 L337.94,414.3 Z" fill="none" stroke="#e5505e" stroke-width="0.8"/>
<rect x="337.69" y="484.1" width="4.8" height="4.8" fill="none" stroke="#e8232d" stroke-width="1.05"/>
<path d="M352.75,408.5 L354.9,413.5 L350.6,413.5 Z" fill="none" stroke="#e5505e" stroke-width="0.8"/>
<rect x="350.35" y="484" width="4.8" height="4.8" fill="none" stroke="#e8232d" stroke-width="1.05"/>
<path d="M365.41,402.3 L367.56,407.3 L363.26,407.3 Z" fill="none" stroke="#e5505e" stroke-width="0.8"/>
<rect x="363.01" y="485.1" width="4.8" height="4.8" fill="none" stroke="#e8232d" stroke-width="1.05"/>
<path d="M378.07,396.6 L380.22,401.6 L375.92,401.6 Z" fill="none" stroke="#e5505e" stroke-width="0.8"/>
<rect x="375.67" y="487.3" width="4.8" height="4.8" fill="none" stroke="#e8232d" stroke-width="1.05"/>
<circle cx="48.93" cy="436.3" r="2.1" fill="none" stroke="#e8232d" stroke-width="1.15"/>
<circle cx="61.59" cy="442.9" r="2.1" fill="none" stroke="#e8232d" stroke-width="1.15"/>
<circle cx="74.25" cy="456.1" r="2.1" fill="none" stroke="#e8232d" stroke-width="1.15"/>
<circle cx="86.91" cy="447.9" r="2.1" fill="none" stroke="#e8232d" stroke-width="1.15"/>
<circle cx="99.57" cy="455.5" r="2.1" fill="none" stroke="#e8232d" stroke-width="1.15"/>
<circle cx="112.23" cy="467.2" r="2.1" fill="none" stroke="#e8232d" stroke-width="1.15"/>
<circle cx="124.89" cy="455.6" r="2.1" fill="none" stroke="#e8232d" stroke-width="1.15"/>
<circle cx="137.54" cy="461.7" r="2.1" fill="none" stroke="#e8232d" stroke-width="1.15"/>
<circle cx="150.2" cy="470" r="2.1" fill="none" stroke="#e8232d" stroke-width="1.15"/>
<circle cx="162.86" cy="452.7" r="2.1" fill="none" stroke="#e8232d" stroke-width="1.15"/>
<circle cx="175.52" cy="456.9" r="2.1" fill="none" stroke="#e8232d" stroke-width="1.15"/>
<circle cx="188.18" cy="463.1" r="2.1" fill="none" stroke="#e8232d" stroke-width="1.15"/>
<circle cx="200.84" cy="461.7" r="2.1" fill="none" stroke="#e8232d" stroke-width="1.15"/>
<circle cx="213.5" cy="467.1" r="2.1" fill="none" stroke="#e8232d" stroke-width="1.15"/>
<circle cx="226.16" cy="474.8" r="2.1" fill="none" stroke="#e8232d" stroke-width="1.15"/>
<circle cx="238.82" cy="472.2" r="2.1" fill="none" stroke="#e8232d" stroke-width="1.15"/>
<circle cx="251.48" cy="475.5" r="2.1" fill="none" stroke="#e8232d" stroke-width="1.15"/>
<circle cx="264.14" cy="479" r="2.1" fill="none" stroke="#e8232d" stroke-width="1.15"/>
<circle cx="276.8" cy="460.3" r="2.1" fill="none" stroke="#e8232d" stroke-width="1.15"/>
<circle cx="289.46" cy="463.1" r="2.1" fill="none" stroke="#e8232d" stroke-width="1.15"/>
<circle cx="302.11" cy="467.7" r="2.1" fill="none" stroke="#e8232d" stroke-width="1.15"/>
<circle cx="314.77" cy="466.5" r="2.1" fill="none" stroke="#e8232d" stroke-width="1.15"/>
<circle cx="327.43" cy="470.8" r="2.1" fill="none" stroke="#e8232d" stroke-width="1.15"/>
<circle cx="340.09" cy="477.5" r="2.1" fill="none" stroke="#e8232d" stroke-width="1.15"/>
<circle cx="352.75" cy="479" r="2.1" fill="none" stroke="#e8232d" stroke-width="1.15"/>
<circle cx="365.41" cy="481.7" r="2.1" fill="none" stroke="#e8232d" stroke-width="1.15"/>
<circle cx="378.07" cy="484.4" r="2.1" fill="none" stroke="#e8232d" stroke-width="1.15"/>
<line x1="42.5" y1="372.7" x2="42.5" y2="502.3" stroke="#3c3c3c" stroke-width="1"/>
<line x1="39.5" y1="502.3" x2="44.3" y2="502.3" stroke="#3c3c3c" stroke-width="1"/>
<text x="34.1" y="505.3" text-anchor="end" font-size="8.8" fill="#3a3a3a" stroke="#3a3a3a" stroke-width="0.2" style="font-family:'Liberation Serif',serif">0%</text>
<line x1="42.5" y1="495.82" x2="44.1" y2="495.82" stroke="#3c3c3c" stroke-width="1"/>
<line x1="42.5" y1="489.34" x2="44.1" y2="489.34" stroke="#3c3c3c" stroke-width="1"/>
<line x1="42.5" y1="482.86" x2="44.1" y2="482.86" stroke="#3c3c3c" stroke-width="1"/>
<line x1="39.5" y1="476.38" x2="44.3" y2="476.38" stroke="#3c3c3c" stroke-width="1"/>
<text x="34.1" y="479.38" text-anchor="end" font-size="8.8" fill="#3a3a3a" stroke="#3a3a3a" stroke-width="0.2" style="font-family:'Liberation Serif',serif">20%</text>
<line x1="42.5" y1="469.9" x2="44.1" y2="469.9" stroke="#3c3c3c" stroke-width="1"/>
<line x1="42.5" y1="463.42" x2="44.1" y2="463.42" stroke="#3c3c3c" stroke-width="1"/>
<line x1="42.5" y1="456.94" x2="44.1" y2="456.94" stroke="#3c3c3c" stroke-width="1"/>
<line x1="39.5" y1="450.46" x2="44.3" y2="450.46" stroke="#3c3c3c" stroke-width="1"/>
<text x="34.1" y="453.46" text-anchor="end" font-size="8.8" fill="#3a3a3a" stroke="#3a3a3a" stroke-width="0.2" style="font-family:'Liberation Serif',serif">40%</text>
<line x1="42.5" y1="443.98" x2="44.1" y2="443.98" stroke="#3c3c3c" stroke-width="1"/>
<line x1="42.5" y1="437.5" x2="44.1" y2="437.5" stroke="#3c3c3c" stroke-width="1"/>
<line x1="42.5" y1="431.02" x2="44.1" y2="431.02" stroke="#3c3c3c" stroke-width="1"/>
<line x1="39.5" y1="424.54" x2="44.3" y2="424.54" stroke="#3c3c3c" stroke-width="1"/>
<text x="34.1" y="427.54" text-anchor="end" font-size="8.8" fill="#3a3a3a" stroke="#3a3a3a" stroke-width="0.2" style="font-family:'Liberation Serif',serif">60%</text>
<line x1="42.5" y1="418.06" x2="44.1" y2="418.06" stroke="#3c3c3c" stroke-width="1"/>
<line x1="42.5" y1="411.58" x2="44.1" y2="411.58" stroke="#3c3c3c" stroke-width="1"/>
<line x1="42.5" y1="405.1" x2="44.1" y2="405.1" stroke="#3c3c3c" stroke-width="1"/>
<line x1="39.5" y1="398.62" x2="44.3" y2="398.62" stroke="#3c3c3c" stroke-width="1"/>
<text x="34.1" y="401.62" text-anchor="end" font-size="8.8" fill="#3a3a3a" stroke="#3a3a3a" stroke-width="0.2" style="font-family:'Liberation Serif',serif">80%</text>
<line x1="42.5" y1="392.14" x2="44.1" y2="392.14" stroke="#3c3c3c" stroke-width="1"/>
<line x1="42.5" y1="385.66" x2="44.1" y2="385.66" stroke="#3c3c3c" stroke-width="1"/>
<line x1="42.5" y1="379.18" x2="44.1" y2="379.18" stroke="#3c3c3c" stroke-width="1"/>
<line x1="39.5" y1="372.7" x2="44.3" y2="372.7" stroke="#3c3c3c" stroke-width="1"/>
<text x="34.1" y="375.7" text-anchor="end" font-size="8.8" fill="#3a3a3a" stroke="#3a3a3a" stroke-width="0.2" style="font-family:'Liberation Serif',serif">100%</text>
<line x1="384.6" y1="372.7" x2="384.6" y2="502.3" stroke="#e8232d" stroke-width="1"/>
<line x1="382.6" y1="502.3" x2="387.2" y2="502.3" stroke="#e8232d" stroke-width="1"/>
<text x="392.6" y="505.3" font-size="8.6" fill="#e33a44" stroke="#e33a44" stroke-width="0.2" style="font-family:'Liberation Serif',serif">0.0</text>
<line x1="383" y1="493.04" x2="384.6" y2="493.04" stroke="#e8232d" stroke-width="1"/>
<line x1="382.6" y1="483.79" x2="387.2" y2="483.79" stroke="#e8232d" stroke-width="1"/>
<text x="392.6" y="486.79" font-size="8.6" fill="#e33a44" stroke="#e33a44" stroke-width="0.2" style="font-family:'Liberation Serif',serif">1.0</text>
<line x1="383" y1="474.53" x2="384.6" y2="474.53" stroke="#e8232d" stroke-width="1"/>
<line x1="382.6" y1="465.27" x2="387.2" y2="465.27" stroke="#e8232d" stroke-width="1"/>
<text x="392.6" y="468.27" font-size="8.6" fill="#e33a44" stroke="#e33a44" stroke-width="0.2" style="font-family:'Liberation Serif',serif">2.0</text>
<line x1="383" y1="456.01" x2="384.6" y2="456.01" stroke="#e8232d" stroke-width="1"/>
<line x1="382.6" y1="446.76" x2="387.2" y2="446.76" stroke="#e8232d" stroke-width="1"/>
<text x="392.6" y="449.76" font-size="8.6" fill="#e33a44" stroke="#e33a44" stroke-width="0.2" style="font-family:'Liberation Serif',serif">3.0</text>
<line x1="383" y1="437.5" x2="384.6" y2="437.5" stroke="#e8232d" stroke-width="1"/>
<line x1="382.6" y1="428.24" x2="387.2" y2="428.24" stroke="#e8232d" stroke-width="1"/>
<text x="392.6" y="431.24" font-size="8.6" fill="#e33a44" stroke="#e33a44" stroke-width="0.2" style="font-family:'Liberation Serif',serif">4.0</text>
<line x1="383" y1="418.99" x2="384.6" y2="418.99" stroke="#e8232d" stroke-width="1"/>
<line x1="382.6" y1="409.73" x2="387.2" y2="409.73" stroke="#e8232d" stroke-width="1"/>
<text x="392.6" y="412.73" font-size="8.6" fill="#e33a44" stroke="#e33a44" stroke-width="0.2" style="font-family:'Liberation Serif',serif">5.0</text>
<line x1="383" y1="400.47" x2="384.6" y2="400.47" stroke="#e8232d" stroke-width="1"/>
<line x1="382.6" y1="391.21" x2="387.2" y2="391.21" stroke="#e8232d" stroke-width="1"/>
<text x="392.6" y="394.21" font-size="8.6" fill="#e33a44" stroke="#e33a44" stroke-width="0.2" style="font-family:'Liberation Serif',serif">6.0</text>
<line x1="383" y1="381.96" x2="384.6" y2="381.96" stroke="#e8232d" stroke-width="1"/>
<line x1="382.6" y1="372.7" x2="387.2" y2="372.7" stroke="#e8232d" stroke-width="1"/>
<text x="392.6" y="375.7" font-size="8.6" fill="#e33a44" stroke="#e33a44" stroke-width="0.2" style="font-family:'Liberation Serif',serif">7.0</text>
<line x1="39.5" y1="502.3" x2="384.6" y2="502.3" stroke="#3c3c3c" stroke-width="1"/>
<line x1="55.26" y1="502.3" x2="55.26" y2="505.1" stroke="#3c3c3c" stroke-width="1"/>
<line x1="67.92" y1="502.3" x2="67.92" y2="505.1" stroke="#3c3c3c" stroke-width="1"/>
<line x1="80.58" y1="502.3" x2="80.58" y2="505.1" stroke="#3c3c3c" stroke-width="1"/>
<line x1="93.24" y1="502.3" x2="93.24" y2="505.1" stroke="#3c3c3c" stroke-width="1"/>
<line x1="105.9" y1="502.3" x2="105.9" y2="505.1" stroke="#3c3c3c" stroke-width="1"/>
<line x1="118.56" y1="502.3" x2="118.56" y2="505.1" stroke="#3c3c3c" stroke-width="1"/>
<line x1="131.21" y1="502.3" x2="131.21" y2="505.1" stroke="#3c3c3c" stroke-width="1"/>
<line x1="143.87" y1="502.3" x2="143.87" y2="505.1" stroke="#3c3c3c" stroke-width="1"/>
<line x1="156.53" y1="502.3" x2="156.53" y2="505.1" stroke="#3c3c3c" stroke-width="1"/>
<line x1="169.19" y1="502.3" x2="169.19" y2="505.1" stroke="#3c3c3c" stroke-width="1"/>
<line x1="181.85" y1="502.3" x2="181.85" y2="505.1" stroke="#3c3c3c" stroke-width="1"/>
<line x1="194.51" y1="502.3" x2="194.51" y2="505.1" stroke="#3c3c3c" stroke-width="1"/>
<line x1="207.17" y1="502.3" x2="207.17" y2="505.1" stroke="#3c3c3c" stroke-width="1"/>
<line x1="219.83" y1="502.3" x2="219.83" y2="505.1" stroke="#3c3c3c" stroke-width="1"/>
<line x1="232.49" y1="502.3" x2="232.49" y2="505.1" stroke="#3c3c3c" stroke-width="1"/>
<line x1="245.15" y1="502.3" x2="245.15" y2="505.1" stroke="#3c3c3c" stroke-width="1"/>
<line x1="257.81" y1="502.3" x2="257.81" y2="505.1" stroke="#3c3c3c" stroke-width="1"/>
<line x1="270.47" y1="502.3" x2="270.47" y2="505.1" stroke="#3c3c3c" stroke-width="1"/>
<line x1="283.13" y1="502.3" x2="283.13" y2="505.1" stroke="#3c3c3c" stroke-width="1"/>
<line x1="295.79" y1="502.3" x2="295.79" y2="505.1" stroke="#3c3c3c" stroke-width="1"/>
<line x1="308.44" y1="502.3" x2="308.44" y2="505.1" stroke="#3c3c3c" stroke-width="1"/>
<line x1="321.1" y1="502.3" x2="321.1" y2="505.1" stroke="#3c3c3c" stroke-width="1"/>
<line x1="333.76" y1="502.3" x2="333.76" y2="505.1" stroke="#3c3c3c" stroke-width="1"/>
<line x1="346.42" y1="502.3" x2="346.42" y2="505.1" stroke="#3c3c3c" stroke-width="1"/>
<line x1="359.08" y1="502.3" x2="359.08" y2="505.1" stroke="#3c3c3c" stroke-width="1"/>
<line x1="371.74" y1="502.3" x2="371.74" y2="505.1" stroke="#3c3c3c" stroke-width="1"/>
<line x1="384.4" y1="502.3" x2="384.4" y2="505.1" stroke="#3c3c3c" stroke-width="1"/>
<text transform="translate(51.93,509.2) rotate(-90)" text-anchor="end" font-size="9.35" fill="#3a3a3a" stroke="#3a3a3a" stroke-width="0.2" style="font-family:'Liberation Serif',serif">Loc01</text>
<text transform="translate(64.59,506.4) rotate(-90)" text-anchor="end" font-size="9.35" fill="#3a3a3a" stroke="#3a3a3a" stroke-width="0.2" style="font-family:'Liberation Serif',serif">Loc02</text>
<text transform="translate(77.25,506.4) rotate(-90)" text-anchor="end" font-size="9.35" fill="#3a3a3a" stroke="#3a3a3a" stroke-width="0.2" style="font-family:'Liberation Serif',serif">Loc03</text>
<text transform="translate(89.91,506.4) rotate(-90)" text-anchor="end" font-size="9.35" fill="#3a3a3a" stroke="#3a3a3a" stroke-width="0.2" style="font-family:'Liberation Serif',serif">Loc04</text>
<text transform="translate(102.57,506.4) rotate(-90)" text-anchor="end" font-size="9.35" fill="#3a3a3a" stroke="#3a3a3a" stroke-width="0.2" style="font-family:'Liberation Serif',serif">Loc05</text>
<text transform="translate(115.23,506.4) rotate(-90)" text-anchor="end" font-size="9.35" fill="#3a3a3a" stroke="#3a3a3a" stroke-width="0.2" style="font-family:'Liberation Serif',serif">Loc06</text>
<text transform="translate(127.89,506.4) rotate(-90)" text-anchor="end" font-size="9.35" fill="#3a3a3a" stroke="#3a3a3a" stroke-width="0.2" style="font-family:'Liberation Serif',serif">Loc07</text>
<text transform="translate(140.54,506.4) rotate(-90)" text-anchor="end" font-size="9.35" fill="#3a3a3a" stroke="#3a3a3a" stroke-width="0.2" style="font-family:'Liberation Serif',serif">Loc08</text>
<text transform="translate(153.2,506.4) rotate(-90)" text-anchor="end" font-size="9.35" fill="#3a3a3a" stroke="#3a3a3a" stroke-width="0.2" style="font-family:'Liberation Serif',serif">Loc09</text>
<text transform="translate(165.86,506.4) rotate(-90)" text-anchor="end" font-size="9.35" fill="#3a3a3a" stroke="#3a3a3a" stroke-width="0.2" style="font-family:'Liberation Serif',serif">Loc10</text>
<text transform="translate(178.52,506.4) rotate(-90)" text-anchor="end" font-size="9.35" fill="#3a3a3a" stroke="#3a3a3a" stroke-width="0.2" style="font-family:'Liberation Serif',serif">Loc11</text>
<text transform="translate(191.18,506.4) rotate(-90)" text-anchor="end" font-size="9.35" fill="#3a3a3a" stroke="#3a3a3a" stroke-width="0.2" style="font-family:'Liberation Serif',serif">Loc12</text>
<text transform="translate(203.84,506.4) rotate(-90)" text-anchor="end" font-size="9.35" fill="#3a3a3a" stroke="#3a3a3a" stroke-width="0.2" style="font-family:'Liberation Serif',serif">Loc13</text>
<text transform="translate(216.5,506.4) rotate(-90)" text-anchor="end" font-size="9.35" fill="#3a3a3a" stroke="#3a3a3a" stroke-width="0.2" style="font-family:'Liberation Serif',serif">Loc14</text>
<text transform="translate(229.16,506.4) rotate(-90)" text-anchor="end" font-size="9.35" fill="#3a3a3a" stroke="#3a3a3a" stroke-width="0.2" style="font-family:'Liberation Serif',serif">Loc15</text>
<text transform="translate(241.82,506.4) rotate(-90)" text-anchor="end" font-size="9.35" fill="#3a3a3a" stroke="#3a3a3a" stroke-width="0.2" style="font-family:'Liberation Serif',serif">Loc16</text>
<text transform="translate(254.48,506.4) rotate(-90)" text-anchor="end" font-size="9.35" fill="#3a3a3a" stroke="#3a3a3a" stroke-width="0.2" style="font-family:'Liberation Serif',serif">Loc17</text>
<text transform="translate(267.14,506.4) rotate(-90)" text-anchor="end" font-size="9.35" fill="#3a3a3a" stroke="#3a3a3a" stroke-width="0.2" style="font-family:'Liberation Serif',serif">Loc18</text>
<text transform="translate(279.8,506.4) rotate(-90)" text-anchor="end" font-size="9.35" fill="#3a3a3a" stroke="#3a3a3a" stroke-width="0.2" style="font-family:'Liberation Serif',serif">Loc19</text>
<text transform="translate(292.46,506.4) rotate(-90)" text-anchor="end" font-size="9.35" fill="#3a3a3a" stroke="#3a3a3a" stroke-width="0.2" style="font-family:'Liberation Serif',serif">Loc20</text>
<text transform="translate(305.11,506.4) rotate(-90)" text-anchor="end" font-size="9.35" fill="#3a3a3a" stroke="#3a3a3a" stroke-width="0.2" style="font-family:'Liberation Serif',serif">Loc21</text>
<text transform="translate(317.77,506.4) rotate(-90)" text-anchor="end" font-size="9.35" fill="#3a3a3a" stroke="#3a3a3a" stroke-width="0.2" style="font-family:'Liberation Serif',serif">Loc22</text>
<text transform="translate(330.43,506.4) rotate(-90)" text-anchor="end" font-size="9.35" fill="#3a3a3a" stroke="#3a3a3a" stroke-width="0.2" style="font-family:'Liberation Serif',serif">Loc23</text>
<text transform="translate(343.09,506.4) rotate(-90)" text-anchor="end" font-size="9.35" fill="#3a3a3a" stroke="#3a3a3a" stroke-width="0.2" style="font-family:'Liberation Serif',serif">Loc24</text>
<text transform="translate(355.75,506.4) rotate(-90)" text-anchor="end" font-size="9.35" fill="#3a3a3a" stroke="#3a3a3a" stroke-width="0.2" style="font-family:'Liberation Serif',serif">Loc25</text>
<text transform="translate(368.41,506.4) rotate(-90)" text-anchor="end" font-size="9.35" fill="#3a3a3a" stroke="#3a3a3a" stroke-width="0.2" style="font-family:'Liberation Serif',serif">Loc26</text>
<text transform="translate(381.07,506.4) rotate(-90)" text-anchor="end" font-size="9.35" fill="#3a3a3a" stroke="#3a3a3a" stroke-width="0.2" style="font-family:'Liberation Serif',serif">Loc27</text>
<text transform="translate(14.6,460.9) rotate(-90)" text-anchor="middle" font-size="10.3" fill="#3a3a3a" stroke="#3a3a3a" stroke-width="0.2" style="font-family:'Liberation Serif',serif">Percentage (%)</text>
<text transform="translate(413.6,441.6) rotate(-90)" text-anchor="middle" font-size="10.5" fill="#e33a44" stroke="#e33a44" stroke-width="0.2" style="font-family:'Liberation Serif',serif">Volume(m<tspan dy="-3.5" font-size="6.3">3</tspan><tspan dy="3.5">)</tspan></text>
<text x="11" y="543.9" font-size="10" fill="#3a3a3a" stroke="#3a3a3a" stroke-width="0.2" style="font-family:'Liberation Serif',serif">(c)</text>
<rect x="48.8" y="536.2" width="25.2" height="4.2" fill="#0cb0ef"/>
<text x="77.1" y="541.5" font-style="italic" font-size="9.1" fill="#3a3a3a" stroke="#3a3a3a" stroke-width="0.2" style="font-family:'Liberation Serif',serif">Pci</text>
<rect x="107.2" y="536.2" width="25.2" height="4.2" fill="#5f5f5f"/>
<text x="135.5" y="541.5" font-style="italic" font-size="9.1" fill="#3a3a3a" stroke="#3a3a3a" stroke-width="0.2" style="font-family:'Liberation Serif',serif">Prg</text>
<rect x="165.6" y="536.2" width="25.2" height="4.2" fill="#0000f5"/>
<text x="193.9" y="541.5" font-style="italic" font-size="9.1" fill="#3a3a3a" stroke="#3a3a3a" stroke-width="0.2" style="font-family:'Liberation Serif',serif">Pbp</text>
<line x1="224" y1="538.3" x2="250" y2="538.3" stroke="#c6e8f6" stroke-width="1"/>
<path d="M237,535.7 L239.7,540.3 L234.3,540.3 Z" fill="none" stroke="#e8232d" stroke-width="0.9"/>
<text x="253" y="541.5" font-style="italic" font-size="9.1" fill="#3a3a3a" stroke="#3a3a3a" stroke-width="0.2" style="font-family:'Liberation Serif',serif">Vci</text>
<line x1="282.4" y1="538.3" x2="307.9" y2="538.3" stroke="#3a3a3a" stroke-width="1.1" stroke-dasharray="2.2,1.7"/>
<circle cx="295" cy="538.3" r="2.1" fill="none" stroke="#e8232d" stroke-width="1.2"/>
<text x="310.2" y="541.5" font-style="italic" font-size="9.1" fill="#3a3a3a" stroke="#3a3a3a" stroke-width="0.2" style="font-family:'Liberation Serif',serif">Vrg</text>
<line x1="340.8" y1="538.3" x2="366.8" y2="538.3" stroke="#2626d2" stroke-width="1.3" stroke-dasharray="2.2,1.5"/>
<rect x="351.5" y="536" width="4.6" height="4.6" fill="none" stroke="#e8232d" stroke-width="1"/>
<text x="370.8" y="541.5" font-style="italic" font-size="9.1" fill="#3a3a3a" stroke="#3a3a3a" stroke-width="0.2" style="font-family:'Liberation Serif',serif">Vbp</text>
<text x="94.5" y="368.4" text-anchor="middle" font-size="9.6" fill="#3a3a3a" stroke="#3a3a3a" stroke-width="0.2" style="font-family:'Liberation Serif',serif">I</text>
<text x="213.3" y="368.4" text-anchor="middle" font-size="9.6" fill="#3a3a3a" stroke="#3a3a3a" stroke-width="0.2" style="font-family:'Liberation Serif',serif">II</text>
<text x="331" y="368.4" text-anchor="middle" font-size="9.6" fill="#3a3a3a" stroke="#3a3a3a" stroke-width="0.2" style="font-family:'Liberation Serif',serif">III</text>
<line x1="158.4" y1="9.6" x2="158.4" y2="543.5" stroke="#707070" stroke-width="0.9"/>
<line x1="271.4" y1="9.6" x2="271.4" y2="543.5" stroke="#707070" stroke-width="0.9"/>
</g>
</svg>
</body></html>
